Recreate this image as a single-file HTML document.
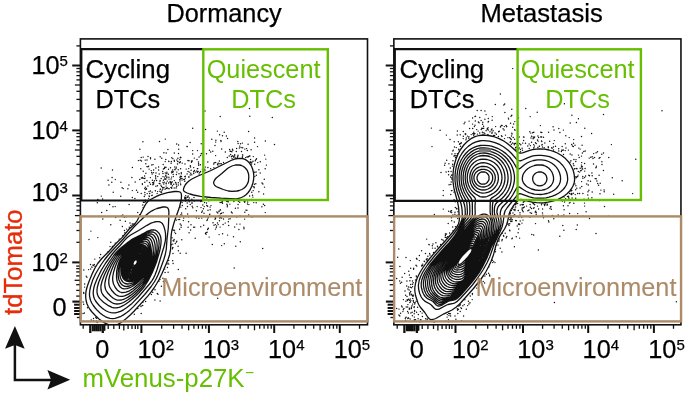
<!DOCTYPE html>
<html><head><meta charset="utf-8"><title>Dormancy vs Metastasis</title>
<style>
html,body{margin:0;padding:0;background:#fff}
svg{display:block}
text{font-family:"Liberation Sans",Arial,Helvetica,sans-serif;font-size:25.3px;fill:#000;stroke:#000;stroke-width:0.25px}
text.g{fill:#66BE00;stroke:none}
text.b{fill:#AD8A68;stroke:#AD8A68;stroke-width:0.1px}
text.r{fill:#E62D0A;stroke:#E62D0A;stroke-width:0.35px}
</style></head><body>
<svg width="685" height="393" viewBox="0 0 685 393">
<rect width="685" height="393" fill="#fff"/>
<defs>
<clipPath id="cl"><rect x="80.4" y="38.9" width="287.1" height="285.90000000000003"/></clipPath>
<clipPath id="cr"><rect x="393.85" y="38.9" width="287.1" height="285.90000000000003"/></clipPath>
</defs>

<g clip-path="url(#cl)"><path d="M145.6 201.7h0M173.0 253.4h0M183.3 220.6h0M198.7 165.2h0M202.6 171.1h0M110.8 242.2h0M220.2 116.5h0M208.3 228.2h0M132.3 224.0h0M262.9 183.9h0M162.7 171.5h0M174.8 169.4h0M193.7 167.6h0M152.6 182.7h0M145.3 187.3h0M161.0 192.3h0M96.5 320.9h0M217.5 223.0h0M226.6 201.2h0M96.6 318.2h0M254.7 164.2h0M265.8 159.1h0M185.7 200.6h0M274.5 144.4h0M190.1 142.4h0M254.2 187.8h0M173.7 184.2h0M93.4 265.4h0M238.5 201.3h0M174.2 187.9h0M176.7 186.4h0M176.4 167.1h0M192.7 128.3h0M250.0 161.9h0M235.4 208.2h0M171.1 163.2h0M163.0 176.6h0M205.0 111.0h0M238.9 229.4h0M256.5 158.7h0M197.8 168.6h0M212.3 244.5h0M122.1 187.8h0M205.5 233.4h0M220.1 202.4h0M248.7 214.9h0M163.9 152.8h0M150.4 191.0h0M170.9 187.5h0M173.9 240.9h0M144.6 175.9h0M97.9 199.4h0M239.4 147.9h0M145.1 178.1h0M165.3 173.0h0M161.8 158.3h0M220.1 227.1h0M189.1 177.0h0M84.4 313.0h0M148.6 198.6h0M145.3 200.1h0M192.0 202.7h0M113.0 206.7h0M172.9 158.6h0M164.4 182.1h0M148.6 166.3h0M164.5 179.1h0M201.3 153.4h0M141.1 305.9h0M221.3 163.8h0M264.7 205.4h0M204.9 170.8h0M176.4 242.1h0M248.9 204.6h0M143.2 157.1h0M205.9 232.8h0M84.6 287.1h0M99.7 257.7h0M152.2 195.3h0M180.3 157.8h0M250.5 161.9h0M165.1 272.5h0M152.1 192.3h0M219.4 161.0h0M112.4 246.4h0M253.8 202.6h0M151.8 195.5h0M164.5 177.1h0M179.8 179.4h0M146.9 166.6h0M242.4 143.1h0M115.3 243.1h0M255.8 183.8h0M113.2 192.2h0M156.0 173.0h0M225.4 216.4h0M254.6 138.0h0M184.8 176.5h0M220.9 140.5h0M229.2 155.9h0M142.7 305.4h0M109.6 204.4h0M167.3 181.1h0M162.9 189.0h0M176.8 241.3h0M176.4 174.5h0M184.8 198.4h0M227.3 206.8h0M155.6 175.7h0M168.8 188.4h0M102.8 219.0h0M168.7 260.4h0M177.9 158.3h0M86.9 277.2h0M249.8 116.2h0M188.6 216.8h0M216.6 226.0h0M247.0 156.9h0M108.1 180.3h0M194.8 227.1h0M217.4 131.1h0M227.5 201.6h0M225.2 223.1h0M167.2 187.8h0M181.6 212.9h0M218.0 165.0h0M257.8 162.6h0M165.7 175.9h0M192.3 161.0h0M191.8 174.7h0M179.6 289.3h0M188.2 195.9h0M199.1 173.9h0M168.5 169.2h0M83.8 293.4h0M144.8 182.3h0M141.2 313.5h0M123.2 188.6h0M127.9 188.8h0M180.2 253.2h0M182.0 215.3h0M252.9 197.1h0M154.5 180.8h0M224.3 243.7h0M184.5 179.4h0M164.8 269.1h0M251.1 149.7h0M180.0 180.9h0M171.7 188.3h0M83.7 292.5h0M132.4 167.5h0M130.9 225.5h0M115.2 206.6h0M219.0 211.5h0M244.3 201.5h0M137.8 308.5h0M193.7 173.5h0M182.0 178.5h0M214.3 162.8h0M187.0 146.4h0M185.0 163.9h0M90.5 264.4h0M174.7 232.1h0M234.7 154.8h0M251.3 199.4h0M178.3 185.0h0M185.0 198.9h0M190.2 204.4h0M200.6 171.4h0M160.1 301.0h0M171.5 184.1h0M222.4 201.7h0M239.7 202.2h0M171.3 161.5h0M236.6 148.5h0M183.8 179.5h0M215.5 218.4h0M193.7 227.2h0M204.0 213.3h0M242.8 154.9h0M168.0 263.1h0M223.1 224.5h0M175.3 243.4h0M160.4 189.2h0M94.3 264.5h0M215.0 145.5h0M215.9 140.3h0M222.5 135.7h0M165.9 167.3h0M190.6 166.9h0M260.3 161.7h0M152.2 195.2h0M201.2 143.7h0M186.0 198.7h0M147.0 159.9h0M192.2 206.3h0M226.4 136.0h0M173.2 171.8h0M158.9 281.2h0M162.1 190.3h0M122.4 226.4h0M129.1 204.4h0M253.2 199.8h0M207.8 162.0h0M120.7 196.3h0M240.5 143.7h0M215.4 224.6h0M154.9 299.9h0M122.8 235.7h0M187.4 146.6h0M187.1 173.9h0M181.3 172.7h0M238.1 155.2h0M200.7 201.6h0M180.2 223.9h0M254.7 172.2h0M195.2 238.2h0M133.3 223.9h0M233.7 156.3h0M207.4 219.2h0M221.7 245.6h0M215.7 162.4h0M249.6 196.0h0M204.5 202.4h0M231.4 200.2h0M178.5 153.4h0M226.9 204.3h0M189.3 201.8h0M208.3 228.4h0M181.2 225.2h0M260.2 172.9h0M137.8 212.5h0M181.8 239.7h0M178.4 250.8h0M165.8 159.4h0M211.8 139.2h0M222.5 203.3h0M217.5 164.2h0M145.0 194.7h0M161.4 286.3h0M188.6 177.0h0M165.9 167.5h0M142.4 183.6h0M247.5 203.9h0M192.7 153.9h0M131.9 177.4h0M199.1 156.9h0M263.4 204.3h0M173.2 230.2h0M168.9 177.2h0M181.5 176.4h0M253.2 190.6h0M251.6 164.0h0M174.8 166.9h0M166.8 173.4h0M153.7 183.7h0M236.3 151.4h0M179.9 217.0h0M184.7 197.2h0M196.8 170.9h0M230.8 151.2h0M198.9 218.3h0M253.3 156.6h0M180.5 157.2h0M248.0 156.7h0M231.9 151.7h0M94.8 259.1h0M265.2 168.7h0M198.2 171.4h0M124.5 230.5h0M194.3 200.9h0M253.0 161.3h0M170.1 181.5h0M110.0 246.6h0M155.7 177.1h0M246.9 210.3h0M206.5 153.7h0M217.8 212.9h0M207.0 220.4h0M179.6 229.2h0M207.6 206.2h0M173.4 176.6h0M221.7 148.9h0M167.1 188.5h0M215.5 217.7h0M198.5 161.9h0M180.6 168.7h0M132.3 190.6h0M240.1 216.0h0M186.1 253.2h0M148.0 156.4h0M177.7 161.6h0M240.0 224.1h0M206.5 202.9h0M231.4 212.0h0M98.7 321.6h0M163.4 281.5h0M207.1 232.3h0M219.5 220.7h0M155.7 178.7h0M244.7 202.3h0M180.3 161.7h0M183.7 218.0h0M220.1 217.3h0M244.8 212.2h0M149.5 182.5h0M179.8 177.1h0M147.0 180.7h0M237.8 141.5h0M124.9 232.8h0M159.9 191.2h0M143.1 178.1h0M137.7 192.2h0M101.7 212.4h0M150.4 177.6h0M174.5 230.2h0M91.8 266.9h0M141.4 178.0h0M141.2 157.4h0M208.3 217.8h0M91.2 319.9h0M235.6 157.9h0M196.4 210.8h0M126.6 229.1h0M167.4 267.5h0M234.7 156.0h0M174.3 152.9h0M95.8 317.4h0M215.6 155.6h0M141.5 161.0h0M144.3 196.5h0M163.0 182.5h0M207.4 216.5h0M191.5 162.2h0M173.1 263.4h0M163.2 164.5h0M178.3 219.6h0M232.5 149.3h0M180.7 184.7h0M159.5 141.5h0M256.1 171.9h0M189.3 172.1h0M201.7 212.2h0M180.5 183.1h0M242.7 147.7h0M93.6 320.8h0M262.7 248.5h0M92.8 265.1h0M164.6 167.2h0M144.3 178.6h0M266.4 165.1h0M249.9 155.9h0M221.0 141.5h0M254.1 187.0h0M232.2 156.2h0M255.3 160.7h0M97.8 237.6h0M172.4 185.7h0M168.7 161.3h0M211.0 205.6h0M176.0 168.5h0M145.6 189.6h0M153.6 169.9h0M146.4 188.5h0M228.3 201.7h0M136.5 190.3h0M161.2 178.4h0M130.0 223.0h0M240.3 241.7h0M191.5 160.9h0M242.4 157.2h0M242.5 154.9h0M83.0 313.4h0M84.7 284.0h0M190.4 165.6h0M87.5 307.7h0M198.6 163.7h0M162.7 187.4h0M253.1 186.6h0M167.0 264.1h0M176.7 143.9h0M153.5 172.6h0M188.2 199.7h0M167.9 149.5h0M190.3 166.2h0M166.2 183.8h0M171.4 244.8h0M219.7 218.1h0M207.6 229.4h0M221.5 218.0h0M106.8 210.5h0M222.6 233.8h0M180.8 207.1h0M139.7 214.6h0M143.2 171.3h0M176.9 159.9h0M196.3 217.7h0M140.2 160.2h0M92.0 267.2h0M206.8 199.0h0M163.0 173.4h0M159.9 279.5h0M150.5 158.8h0M176.1 188.0h0M166.2 152.9h0M83.7 304.3h0M149.3 196.4h0M191.0 224.8h0M112.5 170.0h0M218.2 224.6h0M220.3 209.6h0M192.0 203.2h0M152.7 292.2h0M159.9 181.6h0M163.4 180.2h0M238.0 208.0h0M90.9 231.1h0M152.2 173.9h0M206.8 205.5h0M219.9 163.7h0M144.8 192.5h0M179.6 219.5h0M244.9 149.1h0M232.2 212.9h0M224.2 132.2h0M217.7 298.3h0M142.4 184.4h0M165.8 179.3h0M216.9 211.9h0M160.2 189.2h0M221.6 213.3h0M225.3 151.9h0M263.6 194.0h0M147.2 193.6h0M86.2 276.1h0M238.1 143.4h0M166.2 182.9h0M144.2 202.2h0M258.9 191.8h0M232.8 150.3h0M102.6 198.9h0M151.8 165.0h0M179.4 162.7h0M172.7 244.1h0M223.5 162.5h0M176.0 183.0h0M205.7 216.6h0M245.9 210.1h0M161.2 192.4h0M203.7 225.3h0M170.9 183.9h0M201.4 201.1h0M216.3 227.6h0M197.2 206.6h0M97.3 202.8h0M264.3 179.2h0M149.7 193.4h0M165.0 178.7h0M219.1 215.5h0M112.1 177.5h0M176.3 184.2h0M115.8 217.6h0M264.5 187.1h0M181.3 173.8h0M215.5 229.1h0M142.6 177.4h0M189.1 232.8h0M188.6 221.8h0M170.3 182.5h0M202.4 210.9h0M215.7 142.1h0M166.8 177.8h0M233.5 236.8h0M187.8 197.2h0M141.2 193.4h0M202.8 205.0h0M187.5 206.4h0M194.0 197.4h0M156.6 180.5h0M165.2 161.6h0M191.1 170.3h0M194.4 170.7h0M184.8 181.2h0M97.1 322.5h0M190.2 174.9h0M170.8 182.4h0M180.6 176.3h0M132.3 197.4h0M155.0 289.7h0M172.5 248.8h0M171.6 177.1h0M188.7 168.6h0M178.1 246.3h0M155.9 186.3h0M143.1 207.6h0M197.5 150.6h0M89.0 239.4h0M197.4 172.2h0M161.5 186.4h0M250.4 162.5h0M152.4 180.3h0M172.8 229.6h0M244.0 228.8h0M254.4 184.3h0M228.7 219.1h0M159.2 183.5h0M254.9 176.6h0M157.6 191.6h0M182.2 163.1h0M166.9 172.3h0M220.5 210.1h0M215.0 219.3h0M241.1 147.4h0M187.7 214.0h0M129.3 227.3h0M153.7 182.3h0M246.6 148.6h0M210.1 207.1h0M158.6 166.9h0M187.2 202.9h0M166.9 176.9h0M182.1 202.5h0M155.9 168.0h0M161.0 185.2h0M169.1 188.8h0M143.4 202.2h0M218.3 163.2h0M83.1 301.9h0M151.2 170.6h0M193.6 171.7h0M213.9 167.6h0M229.6 149.4h0M174.3 180.6h0M120.1 220.2h0M208.0 210.3h0M180.1 162.5h0M248.5 156.8h0M145.9 173.2h0M244.6 219.1h0M157.5 185.8h0M88.6 269.6h0M229.9 204.1h0M208.8 200.8h0M223.5 219.0h0M205.1 216.6h0M173.2 174.4h0M101.2 168.0h0M111.8 182.2h0M166.1 186.1h0M233.9 157.5h0M172.1 181.8h0M221.4 202.3h0M237.4 157.2h0M150.5 157.6h0M189.0 160.7h0M158.6 170.0h0M145.6 301.5h0M227.6 138.5h0M168.9 161.6h0M250.6 159.4h0M128.9 185.0h0M248.6 131.5h0M160.0 183.6h0M197.0 159.4h0M140.8 168.8h0M213.0 222.8h0M174.4 161.3h0M245.4 200.7h0M115.3 179.6h0M182.1 180.1h0M234.7 227.0h0M154.9 159.3h0M178.3 269.5h0M108.1 251.7h0M182.3 205.5h0M239.7 146.1h0M142.8 204.9h0M191.9 199.3h0M176.5 220.1h0M202.8 164.0h0M151.4 294.4h0M172.9 247.4h0M264.6 155.1h0M151.7 172.4h0M265.4 141.0h0M190.6 229.9h0M168.8 264.1h0M93.5 318.4h0M145.0 200.5h0M227.4 205.2h0M204.2 206.6h0M185.6 195.6h0M157.3 293.4h0M213.9 200.2h0M159.2 173.9h0M166.2 188.2h0M219.6 134.7h0M223.2 212.6h0M185.7 208.7h0M160.1 180.5h0M219.1 234.6h0M124.4 217.3h0M168.4 174.2h0M230.1 151.2h0M160.2 156.8h0M177.9 161.4h0M171.9 171.5h0M171.8 182.6h0M168.1 272.3h0M175.0 169.7h0M100.6 254.4h0M261.9 206.7h0M227.6 235.1h0M171.1 179.0h0M249.5 108.4h0M228.3 221.8h0M148.0 166.8h0M245.6 157.6h0M236.8 224.1h0M192.8 207.7h0M177.5 163.9h0M197.4 168.7h0M166.2 281.4h0M210.7 168.7h0M210.2 209.7h0M237.7 156.3h0M181.1 227.2h0M232.3 155.6h0M144.7 188.6h0M254.6 142.2h0M161.6 192.0h0M175.6 233.5h0M210.7 151.9h0M202.4 169.2h0M230.1 218.7h0M216.5 199.8h0M195.4 172.1h0M233.9 201.4h0M178.3 182.8h0M172.0 237.8h0M194.4 170.5h0M220.5 217.4h0M247.7 201.9h0M209.6 214.8h0M180.6 176.9h0M265.2 212.6h0M203.4 208.8h0M142.5 178.0h0M165.3 139.1h0M142.9 302.3h0M219.2 210.9h0M145.8 163.7h0M220.6 213.7h0M178.2 169.7h0M150.5 184.3h0M209.1 237.1h0M175.5 182.5h0M258.9 169.8h0M188.0 171.5h0M212.8 151.2h0M200.4 164.7h0M163.4 168.9h0M174.2 160.3h0M139.9 149.2h0M170.9 184.2h0M213.7 164.0h0M122.8 214.9h0M90.7 269.0h0M186.2 169.1h0M149.1 196.0h0M164.0 187.4h0M247.3 150.4h0M249.3 155.9h0M235.8 246.3h0M108.9 184.9h0M214.0 225.2h0M178.7 149.3h0M186.0 199.1h0M119.2 239.1h0M174.1 239.5h0M272.3 117.5h0M146.5 188.9h0M157.8 176.6h0M201.8 218.1h0M192.7 150.6h0M164.4 168.5h0M200.8 226.7h0M152.8 184.7h0M168.6 183.0h0M141.0 306.6h0M199.8 172.4h0M248.1 144.2h0M185.4 178.1h0M232.1 158.7h0M241.5 151.4h0M252.5 195.2h0M158.0 294.3h0M187.1 197.0h0M256.2 202.8h0M171.6 172.8h0M101.3 196.1h0M126.5 216.8h0M134.9 198.4h0M110.8 224.8h0M251.8 192.2h0M251.9 162.3h0M185.7 197.4h0M176.6 186.2h0M145.2 160.1h0M185.6 201.1h0M243.9 227.2h0M231.4 156.8h0M149.0 191.6h0M209.9 214.1h0M169.0 179.1h0M149.1 169.1h0M185.3 176.3h0M155.4 190.8h0M201.0 207.6h0M157.1 193.6h0M230.6 154.4h0M188.1 227.3h0M83.8 270.0h0M202.3 153.8h0M205.4 167.1h0M187.9 160.4h0M206.1 234.2h0M172.7 260.8h0M178.6 145.0h0M190.8 173.3h0M250.9 162.1h0M153.2 184.5h0M234.2 267.9h0M209.5 150.2h0M138.4 160.6h0M147.9 185.9h0M165.1 189.2h0M121.2 215.9h0M120.9 182.2h0M227.3 157.4h0M256.3 175.2h0M134.3 314.3h0M214.2 216.6h0M200.6 155.4h0M228.7 225.5h0M176.8 172.1h0M125.4 221.3h0M205.6 129.4h0M173.1 240.8h0M179.8 159.6h0M262.0 182.9h0M238.1 204.5h0M171.6 187.4h0M256.0 159.4h0M171.8 157.7h0M172.7 170.0h0M257.5 146.6h0M153.1 164.6h0M242.5 156.7h0M163.8 183.9h0M165.9 175.3h0M189.3 198.0h0M204.8 169.3h0M142.9 141.8h0M179.0 173.7h0M251.9 217.1h0M207.9 167.5h0M180.7 178.8h0M236.8 217.1h0M139.8 179.5h0M172.7 247.8h0M95.0 266.2h0M172.5 172.2h0M180.9 214.7h0M170.5 167.7h0M180.9 157.5h0M135.2 181.9h0M218.7 199.6h0M162.9 278.3h0M194.3 158.1h0" stroke="#111" stroke-width="1.45" stroke-linecap="round" fill="none"/><path d="M237.4 158.5L240.5 158.3 243.0 158.6 245.5 159.6 247.5 161.0 249.5 163.1 251.4 166.0 252.6 169.0 253.5 172.5 253.8 176.0 253.6 179.5 252.9 183.0 251.7 186.5 250.0 190.0 248.2 192.5 246.0 194.8 243.6 196.5 241.5 197.5 239.5 198.2 237.5 198.6 235.0 198.8 221.0 198.2 211.0 197.5 200.5 196.3 193.5 195.0 189.9 194.0 187.2 193.0 185.1 192.0 183.8 191.0 183.4 190.0 183.6 188.5 184.4 186.5 185.2 185.0 186.3 183.5 187.8 182.0 189.6 180.5 191.9 179.0 196.9 176.5 211.0 170.5 231.0 160.5 234.5 159.2ZM174.5 191.5L176.5 191.4 178.5 191.6 179.9 192.0 180.6 192.5 181.2 193.5 181.5 195.5 181.4 198.0 181.1 200.5 179.5 207.0 174.1 222.5 171.9 230.5 171.3 234.0 171.0 237.5 170.6 249.5 169.5 255.0 168.2 259.0 165.7 265.0 162.0 273.5 159.1 279.5 156.5 284.0 154.0 288.0 151.0 292.2 148.0 295.9 134.0 311.3 130.0 315.3 126.0 318.8 122.5 321.5 120.0 323.2 117.5 324.5 115.5 325.1 113.5 325.4 111.0 325.3 108.5 324.7 105.5 323.4 102.5 321.6 99.0 318.9 95.5 315.7 92.0 312.0 90.0 309.5 88.2 306.5 86.9 303.5 86.1 300.5 85.7 297.5 85.7 294.5 86.0 291.5 86.8 288.0 87.9 284.5 89.4 280.5 92.5 273.1 94.7 268.5 97.7 263.5 101.8 258.5 109.5 250.7 115.4 244.0 122.0 237.6 129.2 229.0 134.0 224.7 135.5 223.0 136.9 221.0 138.3 218.5 144.5 206.2 146.5 203.0 148.0 201.3 150.5 199.5 157.0 196.1 160.5 194.6 167.5 192.6ZM235.3 165.0L239.5 165.0 241.5 165.5 242.6 166.0 243.5 166.5 245.3 168.0 247.0 170.0 247.5 171.0 248.5 173.8 248.8 176.5 248.5 181.0 248.0 182.6 246.5 185.5 245.0 187.2 243.5 188.5 241.8 189.5 239.3 190.5 237.0 191.0 232.0 191.4 228.3 191.0 223.2 189.5 217.5 187.2 216.2 186.5 214.9 185.5 213.9 184.0 213.7 183.0 213.7 182.0 214.6 180.0 216.2 178.0 221.5 173.8 227.5 168.5 229.0 167.5 231.9 166.0ZM162.9 207.0L165.0 206.9 167.0 207.4 168.0 208.3 168.7 210.0 168.9 212.5 168.8 217.0 168.3 228.0 167.0 239.3 166.3 249.0 165.4 254.0 163.8 259.5 159.8 270.5 158.2 274.5 156.3 278.5 154.3 282.0 151.2 286.5 144.7 294.5 133.5 306.6 129.5 310.4 126.5 312.8 123.5 314.9 121.0 316.3 117.5 317.7 115.0 318.4 112.5 318.6 110.0 318.4 107.5 317.7 105.5 316.8 103.0 315.2 100.0 312.9 97.5 310.6 95.2 308.0 93.3 305.5 91.7 303.0 90.6 300.5 89.9 298.0 89.5 295.5 89.5 293.0 89.9 290.0 90.5 287.0 92.5 280.6 95.5 274.0 97.8 270.0 101.2 264.5 104.7 259.5 107.9 255.5 113.5 249.3 123.0 239.2 133.0 228.0 140.5 220.4 146.5 214.8 149.0 212.8 152.0 210.8 154.5 209.5 157.0 208.5ZM154.5 222.0L156.5 221.6 159.0 221.7 160.5 222.2 161.5 222.8 162.5 223.8 163.2 225.0 164.0 226.8 165.0 230.5 165.5 233.5 165.6 237.0 165.5 239.5 165.0 242.5 164.0 246.5 157.0 269.7 155.0 275.0 153.5 278.1 152.0 280.6 149.5 284.0 138.3 297.0 132.0 303.4 126.5 307.8 123.5 309.8 120.5 311.3 118.0 312.2 115.5 312.8 113.0 312.9 111.0 312.7 108.6 312.0 106.4 311.0 104.0 309.5 102.0 308.0 99.5 305.7 97.1 303.0 95.6 301.0 94.5 299.0 93.8 297.0 93.4 295.0 93.2 293.0 93.4 290.5 93.8 288.0 94.6 285.0 97.2 278.5 101.1 270.5 105.7 263.0 112.3 254.0 115.3 250.5 120.1 245.5 124.5 240.4 127.3 237.5 130.6 235.0 138.6 230.5 147.0 225.3 151.0 223.2ZM151.6 230.0L153.5 229.8 155.5 230.2 157.0 231.1 159.2 233.5 160.2 235.5 160.8 237.5 161.1 241.0 160.9 244.0 160.3 248.0 159.3 252.5 156.3 262.5 152.3 272.5 148.3 280.5 144.8 286.0 142.8 288.5 139.0 292.8 136.0 295.8 132.0 299.3 129.0 301.8 125.5 304.3 123.0 305.7 120.5 306.8 119.0 307.3 116.5 307.8 114.0 307.8 112.0 307.3 108.5 305.7 103.5 302.2 100.0 298.9 98.9 297.5 98.0 295.9 97.3 294.0 97.0 292.0 97.0 290.0 97.3 287.5 98.6 282.5 101.3 276.0 105.2 268.5 109.2 262.0 113.7 255.5 116.6 252.0 120.5 248.3 128.0 242.2 132.5 239.1 141.5 234.5 142.0 234.1 142.5 234.0 146.5 231.7 150.0 230.3ZM150.0 232.0L152.0 231.9 153.5 232.2 155.0 233.0 156.6 234.5 157.8 236.5 158.5 238.5 159.0 241.0 159.1 243.5 158.8 247.0 158.1 251.0 155.9 260.5 153.1 268.5 149.5 276.2 145.5 282.7 141.0 288.3 135.0 294.3 131.5 297.2 128.0 299.8 123.5 302.5 121.0 303.4 119.0 303.9 117.0 304.0 115.5 303.9 113.5 303.3 111.8 302.5 108.2 300.0 103.9 296.0 102.8 294.5 101.9 293.0 101.4 291.5 101.0 289.5 100.9 287.5 101.0 285.5 102.1 281.0 104.6 274.5 107.8 268.0 111.6 261.5 115.6 255.5 118.5 252.0 122.2 248.5 128.5 243.4 133.0 240.4 145.5 233.6 148.0 232.5ZM148.1 234.0L150.0 233.8 151.5 234.0 152.7 234.5 154.0 235.6 155.1 237.0 156.1 239.0 156.8 241.5 157.1 244.0 157.1 247.0 156.8 250.0 156.1 255.0 155.1 259.5 153.1 266.5 150.5 272.5 147.0 278.5 142.5 284.4 137.0 290.1 134.0 292.7 130.5 295.4 128.0 297.1 125.5 298.5 123.5 299.4 121.5 300.0 119.5 300.2 118.0 300.1 116.5 299.8 114.6 299.0 113.0 298.0 111.1 296.5 107.5 292.7 106.4 291.0 105.6 289.5 104.9 286.5 104.8 284.5 105.0 282.5 106.0 278.0 108.2 272.0 111.0 266.0 114.1 260.5 117.4 255.5 120.3 252.0 124.0 248.5 129.0 244.5 134.2 241.0 144.0 235.6 146.0 234.7ZM146.1 236.0L148.0 235.7 149.5 235.7 150.5 236.1 151.8 237.0 153.0 238.5 153.8 240.0 154.5 242.0 155.0 244.5 155.2 247.0 155.2 250.0 154.3 258.5 152.8 265.0 150.7 270.5 147.5 276.0 143.5 281.1 138.5 286.3 133.0 291.1 128.5 294.1 124.5 295.9 122.5 296.3 121.0 296.4 119.0 296.2 117.5 295.6 116.0 294.7 114.5 293.5 111.4 290.0 109.7 287.0 109.2 285.5 108.8 283.5 108.8 280.0 109.6 276.0 111.4 270.5 113.9 264.5 116.6 259.5 119.2 255.5 122.0 252.0 125.2 249.0 130.0 245.2 135.5 241.5 142.5 237.5ZM146.2 237.5L147.5 237.5 148.5 237.7 149.8 238.5 150.7 239.5 151.5 240.9 152.1 242.5 153.1 247.0 153.4 253.0 153.0 260.0 151.9 265.5 150.2 270.0 147.5 274.4 144.0 278.6 138.5 284.1 133.5 288.2 129.5 290.8 126.0 292.2 123.0 292.6 121.5 292.5 120.0 292.0 118.5 291.1 117.5 290.3 115.3 287.5 113.5 284.0 112.7 280.5 112.7 277.0 113.5 272.5 115.1 267.0 117.1 262.0 119.3 258.0 121.7 254.5 124.2 251.5 127.0 248.9 132.2 245.0 139.0 240.6 143.0 238.4ZM143.6 239.5L146.0 239.2 147.0 239.4 148.0 240.0 148.9 241.0 149.7 242.5 150.8 246.5 151.8 253.0 152.0 259.5 151.4 264.0 151.0 266.0 150.0 268.7 148.5 271.5 147.0 273.5 144.8 276.0 138.0 282.3 133.5 285.8 130.0 287.7 127.0 288.7 124.0 288.9 122.0 288.3 120.3 287.0 118.8 285.0 117.2 281.5 116.6 278.5 116.5 275.5 116.7 271.0 117.7 266.0 119.2 261.5 120.7 258.5 122.2 256.0 124.1 253.5 127.0 250.4 131.0 247.2 138.0 242.3 141.0 240.6ZM141.8 241.5L144.5 241.1 145.5 241.2 146.5 241.6 147.5 242.4 148.3 243.5 149.5 246.5 150.7 252.0 151.1 257.5 150.9 260.5 150.6 263.0 149.3 267.5 147.5 271.0 144.8 274.5 140.9 278.5 136.0 282.5 132.5 284.7 129.5 286.0 126.5 286.5 125.0 286.3 123.9 286.0 122.0 284.9 120.4 283.0 119.0 280.0 118.3 277.0 118.1 273.5 118.5 269.5 119.3 265.5 120.6 261.5 122.0 258.5 123.8 255.5 125.6 253.0 127.9 250.5 130.9 248.0 135.5 244.7 138.5 242.9ZM141.2 243.0L142.5 242.8 144.0 243.0 145.0 243.3 146.0 243.9 147.0 244.9 147.8 246.0 149.2 249.5 150.1 253.5 150.2 258.0 149.6 262.5 148.4 266.5 146.4 270.5 143.9 274.0 140.6 277.5 137.0 280.5 133.5 282.6 130.5 283.7 127.5 284.0 125.0 283.5 123.0 282.2 121.7 280.5 120.5 278.0 119.9 275.0 119.8 271.5 120.1 268.0 120.9 264.5 122.1 261.0 123.7 257.5 125.6 254.5 127.5 252.0 129.9 249.5 132.9 247.0 136.0 245.0 138.5 243.8ZM139.9 244.5L142.5 244.6 144.0 245.1 145.0 245.7 147.0 247.7 148.5 250.5 149.2 253.5 149.4 257.0 148.9 261.0 147.8 265.0 146.3 268.5 143.8 272.5 141.0 275.8 138.0 278.5 135.0 280.4 132.5 281.4 129.5 281.8 128.5 281.7 126.5 281.2 125.0 280.4 123.2 278.5 122.2 276.5 121.6 274.5 121.3 271.0 121.6 267.5 122.2 264.5 123.3 261.0 124.6 258.0 126.3 255.0 128.4 252.0 130.5 249.7 133.0 247.5 135.3 246.0 137.5 245.0ZM137.8 246.0L140.5 245.6 143.0 246.1 145.2 247.5 146.1 248.5 147.0 249.9 148.0 252.5 148.5 256.0 148.3 259.5 147.4 263.5 145.8 267.5 143.8 271.0 141.5 274.0 138.5 276.9 136.0 278.7 133.0 280.0 130.0 280.5 127.5 280.1 126.0 279.4 124.4 278.0 123.3 276.0 122.6 274.0 122.3 271.5 122.3 269.0 122.7 266.0 123.5 263.0 124.6 260.0 126.0 257.0 127.5 254.5 129.4 252.0 131.5 249.8 133.5 248.2 135.5 246.9ZM138.2 247.0L139.5 246.8 141.0 246.9 143.0 247.5 144.9 249.0 146.3 251.0 147.2 253.5 147.6 256.5 147.3 260.0 146.5 263.5 145.1 267.0 143.1 270.5 141.0 273.3 138.5 275.7 136.0 277.5 133.0 278.8 130.5 279.2 128.0 278.9 126.3 278.0 125.0 276.7 124.1 275.0 123.4 273.0 123.2 270.5 123.2 268.0 123.6 265.5 124.4 262.5 125.6 259.5 126.8 257.0 128.4 254.5 130.0 252.5 132.0 250.5 134.0 248.9 136.0 247.8ZM138.9 248.0L141.0 248.1 143.0 249.0 144.6 250.5 145.8 252.5 146.5 255.0 146.6 258.0 146.3 261.0 145.5 264.0 144.2 267.0 142.5 270.0 140.5 272.6 138.0 275.0 135.5 276.7 133.0 277.7 130.5 278.0 128.5 277.6 127.0 276.9 125.7 275.5 124.9 274.0 124.3 272.0 124.1 270.0 124.1 267.5 124.5 265.0 125.4 262.0 126.4 259.5 127.7 257.0 129.4 254.5 131.1 252.5 133.0 250.7 135.0 249.3 137.0 248.4ZM137.0 249.5L139.0 249.1 141.0 249.4 143.0 250.5 144.3 252.0 145.2 254.0 145.7 256.5 145.6 259.5 145.1 262.5 144.0 265.5 142.5 268.5 140.5 271.3 138.5 273.3 136.5 274.9 134.0 276.2 131.5 276.7 129.5 276.6 128.0 275.9 126.9 275.0 126.0 273.8 125.3 272.0 125.0 270.0 125.0 268.0 125.2 266.0 125.7 263.5 126.6 261.0 127.7 258.5 128.9 256.5 130.3 254.5 132.0 252.7 133.5 251.4 135.5 250.1ZM137.4 250.5L139.5 250.3 141.0 250.7 142.5 251.7 143.8 253.5 144.5 255.5 144.8 258.0 144.6 260.5 143.9 263.5 142.7 266.5 141.2 269.0 139.5 271.1 137.5 273.0 135.5 274.4 133.5 275.2 131.5 275.5 129.5 275.2 128.2 274.5 127.3 273.5 126.5 272.1 126.0 270.5 125.8 268.5 125.9 266.5 126.8 262.5 128.5 258.5 131.0 254.9 132.5 253.3 134.0 252.1 135.5 251.2ZM137.9 251.5L139.5 251.5 141.0 252.1 142.5 253.5 143.3 255.0 143.8 257.0 143.9 259.0 143.6 261.5 142.9 264.0 141.7 266.5 140.5 268.5 138.9 270.5 137.0 272.2 135.5 273.2 133.5 274.0 131.5 274.3 130.0 274.0 129.0 273.4 128.0 272.4 127.3 271.0 126.9 269.5 126.7 268.0 126.8 266.0 127.8 262.0 129.5 258.3 132.0 255.0 133.5 253.6 135.0 252.5 136.5 251.8ZM136.3 253.0L138.0 252.6 139.5 252.8 140.8 253.5 141.7 254.5 142.5 256.0 142.9 258.0 142.9 260.0 142.5 262.5 141.6 265.0 140.5 267.0 139.1 269.0 137.5 270.6 136.0 271.8 134.0 272.7 132.5 273.0 131.0 272.9 130.0 272.5 129.0 271.7 128.0 269.8 127.6 267.0 128.1 263.5 129.4 260.0 131.3 257.0 133.5 254.7 135.0 253.6ZM136.5 254.0L138.0 253.8 139.0 254.0 140.0 254.5 141.0 255.5 141.7 257.0 142.0 258.5 142.0 260.5 141.6 262.5 140.9 264.5 140.0 266.3 138.8 268.0 137.4 269.5 136.0 270.6 134.5 271.4 133.0 271.8 131.5 271.7 130.0 270.9 129.3 270.0 128.9 269.0 128.6 267.5 128.5 266.0 129.0 263.0 130.2 260.0 132.0 257.3 134.0 255.3 135.5 254.4ZM137.0 255.0L138.0 255.0 139.0 255.3 139.9 256.0 140.5 257.0 140.9 258.0 141.1 259.5 141.0 261.0 140.6 263.0 139.2 266.0 137.0 268.7 135.9 269.5 134.5 270.2 133.0 270.5 132.0 270.4 131.0 270.0 130.5 269.5 129.8 268.5 129.5 267.5 129.5 265.0 130.0 262.5 131.4 259.5 133.0 257.4 135.0 255.7ZM135.6 256.5L136.5 256.2 137.5 256.1 138.5 256.5 139.1 257.0 139.8 258.0 140.1 259.0 140.2 260.5 140.0 262.0 139.5 263.5 138.8 265.0 137.0 267.4 136.0 268.3 134.5 269.1 133.5 269.3 132.5 269.2 131.3 268.5 130.5 267.1 130.3 265.5 130.5 263.5 131.4 261.0 132.5 259.2 134.0 257.5ZM135.8 257.5L136.5 257.3 137.5 257.4 138.4 258.0 138.8 258.5 139.2 259.5 139.3 260.5 139.0 262.5 138.0 264.8 136.5 266.7 135.5 267.5 134.5 267.9 133.0 268.0 132.0 267.4 131.4 266.5 131.2 265.0 131.4 263.0 132.2 261.0 133.2 259.5 134.5 258.2ZM136.1 258.5L137.0 258.5 137.5 258.8 138.0 259.5 138.4 261.0 138.1 262.5 137.2 264.5 136.0 265.9 134.5 266.7 133.5 266.8 132.9 266.5 132.3 265.5 132.1 264.0 132.4 262.5 133.1 261.0 134.0 259.8 135.0 258.9ZM135.0 260.0L136.0 259.7 136.9 260.0 137.3 261.0 137.3 262.0 137.0 263.1 136.0 264.6 135.0 265.3 134.0 265.5 133.5 265.2 133.1 264.5 133.0 263.5 133.5 261.9 134.0 261.0Z" fill="none" stroke="#111" stroke-width="1.3" stroke-linejoin="round"/></g>
<g clip-path="url(#cr)"><path d="M483.0 134.2h0M516.3 203.7h0M608.6 216.2h0M475.0 116.5h0M467.4 136.1h0M420.4 311.6h0M500.5 127.1h0M496.4 134.2h0M398.9 314.9h0M515.7 220.5h0M581.5 170.1h0M521.9 204.4h0M453.0 230.8h0M558.7 148.7h0M460.2 134.8h0M402.1 277.2h0M505.2 233.2h0M534.1 204.3h0M412.6 286.6h0M456.5 208.4h0M420.3 319.9h0M531.6 142.2h0M515.1 209.2h0M524.7 201.6h0M573.9 165.5h0M514.7 214.7h0M541.9 145.0h0M401.7 282.2h0M472.2 299.6h0M484.8 133.8h0M588.4 198.1h0M458.7 149.2h0M487.2 129.2h0M467.6 305.6h0M576.8 188.3h0M463.3 136.2h0M445.4 234.0h0M454.2 141.8h0M402.2 306.9h0M460.0 143.4h0M518.1 118.2h0M549.7 141.3h0M448.9 163.7h0M575.7 198.3h0M460.9 307.6h0M498.4 240.9h0M575.8 161.5h0M511.8 109.3h0M543.5 137.2h0M448.8 321.8h0M567.5 196.5h0M499.3 239.1h0M513.6 124.0h0M488.3 118.4h0M472.4 294.4h0M454.9 214.2h0M455.0 153.8h0M456.2 155.8h0M440.1 130.2h0M533.1 138.7h0M486.1 114.6h0M409.5 293.0h0M568.9 198.2h0M465.8 134.0h0M397.7 257.3h0M541.5 141.0h0M502.1 125.5h0M552.3 215.5h0M462.9 305.7h0M511.8 115.3h0M400.4 283.2h0M523.6 140.5h0M563.4 130.1h0M481.1 110.5h0M452.8 150.9h0M501.9 251.9h0M570.0 202.4h0M407.0 296.5h0M460.9 143.5h0M454.6 155.7h0M548.2 146.8h0M427.2 319.5h0M449.3 313.5h0M570.0 162.2h0M600.9 190.1h0M578.5 155.1h0M410.3 260.6h0M481.1 120.5h0M500.5 126.7h0M622.2 180.7h0M527.8 146.0h0M411.5 294.3h0M416.5 258.5h0M522.2 207.9h0M509.6 230.3h0M441.8 239.4h0M486.4 274.2h0M414.6 311.4h0M511.5 136.0h0M511.9 221.4h0M473.7 135.3h0M592.2 192.0h0M484.9 276.0h0M412.0 305.7h0M422.7 265.6h0M484.9 119.2h0M596.2 167.2h0M513.2 137.5h0M434.1 322.3h0M494.6 135.4h0M518.1 145.8h0M581.5 166.6h0M475.0 125.3h0M407.3 300.6h0M508.5 223.9h0M541.6 137.0h0M584.5 203.1h0M469.6 128.4h0M543.5 217.8h0M571.7 144.4h0M492.1 120.2h0M541.8 132.5h0M542.6 208.9h0M518.9 223.8h0M590.8 157.3h0M562.8 225.4h0M581.4 165.1h0M512.0 134.0h0M454.9 155.7h0M582.9 178.2h0M409.6 309.0h0M559.9 132.4h0M476.7 129.6h0M513.9 209.8h0M447.1 317.1h0M409.4 308.2h0M443.7 242.1h0M483.6 126.3h0M484.6 283.0h0M516.3 236.7h0M493.6 135.5h0M591.9 197.7h0M479.1 122.8h0M483.2 281.5h0M398.8 249.0h0M479.3 282.6h0M421.6 266.0h0M519.2 147.9h0M410.2 277.6h0M460.5 146.3h0M457.2 134.9h0M582.8 176.5h0M569.3 203.1h0M459.0 150.0h0M530.0 217.0h0M513.2 216.6h0M530.4 145.6h0M548.5 220.7h0M582.2 166.5h0M419.4 255.5h0M522.5 150.3h0M481.1 280.3h0M586.7 183.9h0M456.8 208.9h0M445.6 234.0h0M541.5 204.8h0M542.5 147.0h0M448.4 319.7h0M515.0 130.3h0M600.0 157.4h0M456.9 208.5h0M475.5 116.3h0M531.6 136.3h0M399.7 281.0h0M489.5 274.9h0M518.4 224.2h0M407.7 307.0h0M422.8 264.1h0M583.8 151.4h0M517.2 225.9h0M601.9 161.7h0M493.8 261.6h0M451.4 175.2h0M498.4 136.4h0M468.4 301.3h0M426.7 239.1h0M426.4 259.3h0M551.3 209.3h0M409.4 274.9h0M571.7 193.6h0M522.5 210.4h0M540.4 125.6h0M538.6 209.0h0M406.7 285.9h0M433.0 244.0h0M479.7 282.1h0M532.4 202.8h0M554.4 302.5h0M490.0 131.8h0M413.4 301.7h0M603.4 170.5h0M491.3 129.9h0M510.9 219.8h0M443.2 195.4h0M580.1 187.9h0M470.3 296.0h0M446.4 135.1h0M509.6 219.6h0M597.7 183.5h0M537.5 206.1h0M517.6 203.5h0M487.9 134.4h0M530.1 204.4h0M412.7 298.4h0M504.5 138.6h0M564.4 103.8h0M504.3 126.6h0M568.6 196.3h0M418.1 318.8h0M514.8 121.6h0M420.0 321.7h0M513.7 207.1h0M530.8 133.1h0M588.3 184.9h0M461.3 142.7h0M438.0 247.1h0M523.4 207.7h0M562.7 150.2h0M516.8 146.9h0M464.9 299.7h0M413.7 268.3h0M443.3 190.6h0M596.9 180.9h0M427.9 256.3h0M407.8 318.5h0M487.4 128.4h0M524.1 137.1h0M582.1 168.0h0M544.1 203.9h0M553.1 126.8h0M472.6 124.1h0M536.3 143.6h0M599.1 175.2h0M406.0 257.4h0M510.9 218.2h0M511.0 116.3h0M464.9 122.2h0M575.2 194.6h0M405.9 301.3h0M403.3 309.7h0M574.6 168.8h0M412.6 304.1h0M460.2 311.4h0M581.6 181.6h0M492.5 260.2h0M577.0 168.8h0M502.0 136.4h0M455.0 212.2h0M481.2 129.5h0M509.9 230.8h0M479.1 283.8h0M409.3 309.3h0M573.3 193.3h0M479.7 132.9h0M413.9 307.1h0M407.5 300.5h0M408.2 317.8h0M458.1 214.9h0M446.5 234.0h0M451.1 171.5h0M573.7 139.6h0M565.2 150.6h0M495.3 249.6h0M608.8 157.5h0M511.9 238.8h0M545.8 203.6h0M632.6 193.6h0M408.7 318.1h0M466.3 138.0h0M523.3 202.2h0M540.9 136.8h0M422.1 313.1h0M564.6 202.0h0M576.0 159.6h0M534.1 137.8h0M510.7 215.2h0M596.2 178.8h0M465.3 133.8h0M472.6 118.0h0M450.6 177.0h0M530.2 212.8h0M547.0 204.9h0M414.3 306.7h0M461.5 308.4h0M410.9 313.0h0M409.9 280.8h0M560.2 200.5h0M544.6 205.6h0M595.1 178.6h0M452.1 179.4h0M475.3 120.9h0M480.8 280.6h0M539.4 146.2h0M530.2 116.6h0M572.1 197.9h0M435.1 248.3h0M604.1 189.9h0M585.1 168.5h0M576.2 229.4h0M509.6 137.6h0M504.7 103.9h0M536.2 214.3h0M584.6 206.1h0M407.2 299.6h0M450.8 184.4h0M416.3 275.9h0M477.2 110.4h0M571.9 115.3h0M561.9 215.6h0M565.3 143.8h0M495.6 126.6h0M474.3 134.1h0M446.1 172.0h0M570.9 160.8h0M564.1 209.8h0M414.7 304.0h0M582.6 169.0h0M466.0 139.8h0M586.1 211.8h0M512.7 68.6h0M452.1 174.9h0M453.9 156.1h0M588.8 175.3h0M570.2 122.9h0M522.1 209.2h0M516.3 220.8h0M424.5 261.5h0M455.0 316.0h0M452.4 166.1h0M518.7 228.9h0M453.9 192.1h0M544.8 142.9h0M407.9 304.6h0M426.4 259.8h0M414.2 313.8h0M411.6 287.8h0M466.3 309.3h0M477.4 134.1h0M525.8 108.5h0M510.6 141.6h0M600.2 183.2h0M446.3 237.8h0M571.0 191.1h0M544.9 204.7h0M399.9 266.4h0M506.6 126.8h0M533.7 235.0h0M576.4 122.5h0M432.0 146.6h0M538.4 250.0h0M506.8 236.4h0M588.1 180.8h0M558.8 150.9h0M409.1 290.0h0M552.1 148.3h0M479.8 117.4h0M555.5 146.2h0M504.9 112.5h0M478.1 284.3h0M474.9 133.6h0M410.1 318.9h0M512.6 143.0h0M603.5 152.9h0M510.4 213.3h0M593.7 153.6h0M591.9 173.0h0M498.6 131.7h0M589.5 175.8h0M603.5 114.5h0M529.1 144.0h0M403.9 308.5h0M580.1 149.1h0M566.0 147.9h0M503.6 235.4h0M415.1 302.8h0M585.2 151.0h0M441.0 172.5h0M514.4 246.8h0M396.7 278.4h0M589.5 218.4h0M450.0 139.5h0M514.6 139.3h0M421.9 265.1h0M429.2 244.7h0M401.6 305.9h0M488.6 273.3h0M575.9 185.8h0M471.2 134.6h0M460.2 304.5h0M443.1 240.3h0M523.2 211.8h0M559.8 236.2h0M578.1 175.1h0M581.7 162.6h0M458.0 211.8h0M455.3 201.7h0M498.0 244.9h0M408.4 312.9h0M411.8 294.9h0M592.2 175.7h0M584.7 171.1h0M407.6 311.5h0M451.6 178.0h0M480.6 281.1h0M554.0 130.0h0M450.8 194.5h0M515.4 204.8h0M412.5 284.2h0M410.5 301.8h0M468.9 136.7h0M512.3 219.7h0M548.9 222.0h0M565.8 135.8h0M410.7 291.4h0M512.4 208.8h0M414.4 317.1h0M537.5 139.9h0M563.4 205.7h0M455.5 157.4h0M509.0 225.4h0M521.8 217.6h0M534.7 204.7h0M594.5 157.5h0M573.8 203.3h0M580.7 170.8h0M464.3 304.6h0M564.1 197.1h0M564.5 200.2h0M553.4 147.0h0M573.4 146.6h0M449.0 315.6h0M571.9 155.0h0M409.4 300.2h0M520.0 214.9h0M414.5 319.8h0M538.6 137.4h0M457.8 313.4h0M408.8 271.2h0M448.7 211.2h0M496.3 245.1h0M421.6 250.7h0M579.5 193.4h0M509.7 223.7h0M520.8 144.7h0M537.2 112.3h0M531.8 234.4h0M454.3 199.9h0M417.6 307.3h0M548.3 147.7h0M408.5 286.9h0M461.6 320.7h0M458.8 306.0h0M406.1 317.3h0M523.5 137.0h0M569.2 137.6h0M517.3 144.4h0M450.3 167.9h0M548.6 132.3h0M537.9 136.0h0M662.0 110.7h0M412.2 312.3h0M595.9 167.7h0M510.8 221.5h0M587.8 194.9h0M417.0 259.2h0M479.1 283.2h0M448.6 174.7h0M604.5 206.5h0M457.4 131.0h0M453.3 150.1h0M511.4 144.2h0M451.9 153.9h0M579.2 157.4h0M450.5 212.0h0M635.8 159.3h0M599.1 158.2h0M405.0 291.0h0M503.8 105.0h0M549.2 91.1h0M517.7 124.7h0M403.4 299.6h0M448.2 223.4h0M433.5 252.4h0M463.6 315.9h0M514.1 143.5h0M457.6 310.2h0M575.0 145.3h0M547.3 205.1h0M503.7 236.2h0M415.5 280.0h0M572.5 145.9h0M520.6 200.5h0M488.1 122.0h0M561.7 150.1h0M420.9 319.8h0M414.1 307.6h0M510.3 213.0h0M489.8 275.9h0M411.4 307.2h0M573.9 159.4h0M414.0 320.1h0M582.9 193.4h0M519.2 137.0h0M568.0 205.8h0M452.9 214.9h0M502.2 239.4h0M518.1 232.8h0M469.1 121.1h0M519.7 224.5h0M414.6 310.4h0M502.4 233.0h0M427.2 318.9h0M523.3 204.5h0M410.7 284.5h0M505.5 135.1h0M459.9 305.5h0M452.0 190.6h0M676.4 301.7h0M592.2 156.7h0M520.2 221.0h0M405.6 295.2h0M437.4 246.2h0M523.0 220.1h0M405.3 318.3h0M514.6 129.6h0M463.3 131.5h0M549.9 208.6h0M399.8 315.9h0M506.2 237.7h0M570.2 153.9h0M482.4 132.2h0M577.7 193.4h0M523.3 201.0h0M565.6 198.6h0M510.9 219.9h0M518.0 148.5h0M414.1 302.6h0M568.4 150.1h0M473.8 132.2h0M593.5 164.0h0M400.6 313.2h0M533.2 136.9h0M518.4 149.1h0M402.9 311.6h0M573.3 163.8h0M409.9 294.1h0M482.8 122.2h0M468.9 304.0h0M582.1 145.2h0M511.3 139.6h0M427.1 258.4h0M445.9 321.2h0M422.4 316.5h0M495.0 262.6h0M458.5 309.2h0M415.0 321.1h0M443.3 209.1h0M501.5 135.7h0M412.7 295.4h0M612.3 177.8h0M601.8 154.3h0M533.5 203.5h0M578.4 118.7h0M484.9 111.0h0M551.7 147.7h0M563.9 214.9h0M424.2 261.3h0M450.6 316.0h0M410.3 287.2h0M450.4 313.7h0M507.8 224.0h0M430.0 254.9h0M577.7 213.6h0M558.8 128.5h0M501.3 125.4h0M416.8 266.1h0M458.4 141.8h0M411.3 277.6h0M568.7 197.7h0M457.6 96.3h0M514.7 210.1h0M588.0 191.8h0M512.7 127.3h0M515.6 147.4h0M457.4 153.7h0M445.1 163.3h0M428.9 244.5h0M510.0 138.0h0M604.2 191.8h0M451.4 217.7h0M418.3 314.4h0M532.7 132.7h0M482.5 128.5h0M554.3 140.6h0M553.4 143.6h0M507.9 137.6h0M483.7 128.2h0M535.5 142.7h0M519.7 143.8h0M455.0 200.8h0M452.7 227.0h0M580.2 168.3h0M531.0 138.0h0M486.1 130.7h0M537.9 147.5h0M468.8 138.3h0M562.1 200.8h0M413.3 300.5h0M432.5 248.1h0M510.1 142.2h0M508.6 119.1h0M506.7 126.5h0M588.9 190.2h0M576.2 168.5h0M447.5 236.6h0M503.1 128.8h0M454.5 147.0h0M445.2 237.3h0M450.9 210.9h0M520.3 204.9h0M406.2 307.0h0M492.1 132.3h0M538.1 141.1h0M518.3 210.4h0M514.9 210.4h0M405.6 320.2h0M415.6 319.6h0M569.6 213.4h0M416.0 265.3h0M499.1 241.0h0M465.3 134.6h0M510.5 216.5h0M582.4 152.9h0M581.6 166.8h0M581.5 136.4h0M470.1 99.6h0M413.1 296.3h0M500.2 248.2h0M492.7 262.6h0M563.3 150.0h0M449.1 184.8h0M510.9 139.0h0M509.3 216.7h0M410.0 292.8h0M404.7 273.4h0M416.6 312.3h0M456.3 147.6h0M435.9 242.7h0M591.6 133.5h0M515.7 206.9h0M540.8 132.2h0M455.3 207.5h0M534.1 207.7h0M584.6 163.4h0M452.7 164.3h0M432.3 245.8h0M562.5 200.9h0M451.2 182.0h0M483.9 132.6h0M520.4 149.5h0M409.8 294.9h0M425.6 318.7h0M448.5 171.5h0M410.9 300.6h0M416.1 301.2h0M515.2 143.6h0M529.2 148.4h0M501.9 240.7h0M596.1 152.8h0M412.4 315.8h0M574.2 169.1h0M429.6 253.5h0M440.6 244.4h0M522.7 143.1h0M408.5 299.3h0M593.0 158.5h0M533.8 132.2h0M510.6 123.2h0M571.9 194.6h0M522.0 223.1h0M578.8 148.1h0M472.4 293.4h0M522.1 148.2h0M413.6 295.1h0M518.5 118.0h0M533.9 147.7h0M534.6 137.0h0M569.6 193.4h0M602.0 164.5h0M575.9 178.0h0M412.8 296.2h0M520.0 212.7h0M518.8 216.9h0M577.7 176.5h0M558.9 283.3h0M541.9 203.6h0M427.5 260.2h0M457.3 308.8h0M457.7 218.6h0M575.7 189.8h0M544.2 147.7h0M399.0 309.1h0M410.7 268.2h0M406.9 280.9h0M573.5 143.3h0M571.8 190.5h0M470.0 302.8h0M539.2 146.2h0M478.6 285.4h0M551.0 206.8h0M525.5 143.3h0M579.6 172.1h0M488.1 127.8h0M596.0 233.5h0M495.5 251.8h0M492.3 116.6h0M597.5 151.8h0M413.6 269.3h0M541.9 141.6h0M524.4 207.0h0M413.2 282.8h0M535.8 211.2h0M473.8 133.4h0M396.7 308.5h0M419.3 260.6h0M511.4 210.5h0M446.7 160.2h0M513.0 213.0h0M576.7 176.9h0M495.1 133.0h0M472.8 133.7h0M478.4 121.9h0M463.2 138.6h0M534.4 146.0h0M535.5 223.6h0M536.2 212.4h0M434.3 214.4h0M476.7 288.1h0M493.1 130.7h0M585.6 176.0h0M481.8 128.3h0M598.6 185.2h0M472.7 128.5h0M474.4 126.6h0M499.3 131.3h0M575.8 176.6h0M488.8 266.9h0M517.0 149.7h0M416.7 258.4h0M514.3 144.8h0M553.5 149.9h0M584.0 199.1h0M431.4 128.1h0M600.0 193.7h0M542.5 212.9h0M407.9 289.0h0M482.6 124.3h0M412.5 280.9h0M527.9 210.8h0M451.7 212.6h0M464.1 123.7h0M409.8 302.6h0M515.2 149.1h0M533.5 208.2h0M550.4 206.9h0M411.4 308.5h0M583.3 216.2h0M425.9 321.3h0M611.4 144.6h0M563.9 230.3h0M535.2 211.9h0M547.5 204.3h0M454.3 222.0h0M531.4 208.4h0M453.0 160.8h0M577.3 225.0h0M492.0 128.9h0M599.5 200.6h0M613.7 194.3h0M516.0 143.1h0M451.6 210.8h0M449.6 233.0h0M511.8 133.3h0M520.5 151.7h0M506.0 125.5h0M513.3 215.5h0M584.8 128.3h0M533.7 144.6h0M571.3 193.4h0M571.2 194.5h0M508.4 118.1h0M447.3 314.6h0M542.2 144.4h0M511.6 217.8h0M459.5 144.2h0M558.2 214.9h0M444.6 165.3h0M581.5 156.1h0M453.6 200.2h0M531.6 213.3h0M542.8 215.3h0M519.6 238.1h0M533.7 148.0h0M504.1 129.9h0M562.1 146.4h0M589.2 158.1h0M510.1 217.3h0M575.0 183.9h0M563.5 154.4h0M478.1 131.1h0M456.6 215.4h0M529.8 131.8h0M522.8 205.1h0M512.4 238.1h0M451.7 220.8h0M540.9 137.1h0M596.4 166.1h0M448.7 313.4h0M488.3 130.0h0M445.4 235.5h0M451.4 190.6h0M553.8 218.7h0M584.6 177.4h0M491.9 133.3h0M529.0 209.9h0M500.4 94.0h0M410.3 298.9h0M480.7 280.3h0M578.3 171.4h0M530.4 207.2h0M526.6 206.1h0M455.9 319.3h0M488.5 121.4h0M561.4 151.4h0M590.5 181.3h0M416.4 276.7h0M425.5 253.4h0M581.8 186.5h0M495.3 104.4h0M455.5 226.8h0" stroke="#111" stroke-width="1.45" stroke-linecap="round" fill="none"/><path d="M479.0 135.5L483.0 135.1 488.5 135.5 493.5 136.5 498.5 138.3 502.5 140.3 506.0 142.5 509.8 145.5 516.5 151.6 518.0 152.5 519.5 153.0 521.0 153.1 522.5 152.8 529.0 150.6 532.5 149.7 536.0 149.1 539.5 148.9 544.5 149.2 549.0 150.0 553.5 151.3 557.4 153.0 561.6 155.5 565.5 158.6 568.6 162.0 571.2 166.0 573.1 170.0 574.2 174.5 574.6 179.0 574.5 181.0 574.1 183.0 573.0 186.0 571.6 188.5 569.8 191.0 567.3 193.5 564.5 195.7 561.5 197.6 558.0 199.3 554.5 200.6 551.5 201.4 548.0 202.1 544.5 202.6 541.0 202.8 536.5 202.7 532.5 202.2 529.0 201.4 523.0 199.8 521.5 199.5 520.0 199.6 519.0 200.0 517.0 201.5 515.0 203.7 512.9 206.5 510.4 210.5 509.3 213.5 507.7 221.0 506.5 225.0 504.5 229.0 500.0 235.9 497.9 240.0 495.8 246.0 493.5 254.7 491.0 261.4 488.5 266.8 486.0 271.5 483.5 275.5 481.0 279.0 473.5 288.5 461.0 302.5 458.5 305.1 456.0 307.3 452.0 310.0 444.0 313.8 435.8 318.5 433.0 319.5 431.5 319.7 430.5 319.5 429.5 319.0 428.0 317.5 424.8 312.5 420.2 307.0 418.7 304.5 417.8 302.5 415.7 296.0 414.8 291.0 414.8 287.5 415.7 282.5 417.2 278.0 419.7 273.0 422.7 268.0 426.2 263.0 429.7 258.5 434.8 252.5 446.5 239.5 452.5 232.5 456.5 227.4 458.4 224.0 459.1 221.5 459.4 219.0 458.6 207.5 457.6 202.0 454.2 189.5 453.5 185.5 453.0 181.5 452.9 177.5 453.1 173.0 453.6 168.5 454.4 164.5 456.0 159.0 458.0 154.0 460.5 149.5 463.8 145.0 467.0 141.7 471.0 138.7 475.0 136.7ZM479.5 141.0L481.5 140.7 484.0 140.7 489.5 141.2 495.0 142.6 500.0 144.7 503.5 146.7 507.5 149.7 511.1 153.0 516.5 159.1 518.0 160.3 519.0 160.7 520.0 160.8 521.5 160.5 527.5 157.8 532.0 156.2 534.5 155.7 538.0 155.3 541.5 155.3 545.5 155.8 549.5 156.7 553.5 158.3 557.0 160.3 560.0 162.6 562.8 165.5 564.9 168.5 566.5 172.0 567.4 175.5 567.7 179.5 567.2 182.5 566.3 185.0 564.8 187.5 563.1 189.5 561.0 191.5 558.5 193.3 555.5 194.9 552.5 196.2 549.0 197.2 546.0 197.8 543.0 198.2 537.0 198.2 533.5 197.8 529.5 196.9 521.0 193.8 520.0 193.7 519.0 193.8 517.5 194.8 507.3 207.5 505.3 210.5 504.7 212.0 504.2 214.0 503.2 222.0 502.2 226.5 500.2 231.5 496.0 240.1 494.1 244.5 489.7 257.0 486.9 263.0 483.3 269.5 480.7 273.5 475.8 280.5 472.4 285.0 466.7 291.5 460.5 298.3 456.5 301.9 455.0 302.8 453.5 303.4 448.0 304.5 446.7 305.0 439.5 308.9 438.0 309.4 436.0 309.4 434.5 308.5 431.5 305.2 430.0 304.0 426.5 302.2 424.5 300.9 422.6 299.0 421.2 297.0 419.7 293.5 418.6 289.0 418.4 285.0 419.2 280.5 420.4 277.0 422.3 273.0 424.7 269.0 427.4 265.0 434.5 256.0 448.3 240.5 452.9 235.0 457.5 228.7 459.0 226.2 460.5 223.1 461.7 220.0 462.3 217.5 462.3 214.5 462.1 210.0 461.7 207.0 461.1 204.0 457.1 192.0 456.1 188.0 455.4 184.0 455.0 180.0 455.1 175.5 455.4 171.5 456.2 167.0 457.7 162.0 459.8 157.0 462.2 153.0 465.0 149.4 468.5 146.1 472.0 143.7 476.0 141.9ZM480.2 145.5L482.0 145.3 485.0 145.3 488.5 145.6 491.5 146.2 495.0 147.3 497.5 148.3 502.0 150.7 506.0 153.6 509.9 157.5 512.9 161.5 516.5 167.6 517.5 168.7 518.0 168.9 519.0 168.9 520.0 168.4 524.1 165.0 527.1 163.0 530.3 161.5 533.5 160.5 537.5 159.8 541.5 159.8 545.5 160.4 548.6 161.5 551.5 163.0 554.2 165.0 556.5 167.4 558.3 170.0 559.6 173.0 560.4 176.0 560.6 179.0 560.2 182.0 559.2 184.5 557.9 186.5 556.2 188.5 554.4 190.0 552.0 191.5 549.5 192.7 547.0 193.5 543.5 194.2 541.0 194.5 538.0 194.4 534.5 194.1 532.0 193.5 529.0 192.6 526.5 191.5 523.9 190.0 519.5 187.1 518.5 186.8 518.0 186.9 517.0 187.6 516.0 189.1 512.7 195.0 510.7 198.0 507.9 201.5 503.0 206.5 501.9 208.0 501.1 209.5 500.5 211.5 500.2 214.0 501.1 220.0 501.1 223.0 500.7 225.5 499.7 229.0 497.2 235.0 491.5 246.6 486.9 258.0 482.4 267.0 479.8 271.5 474.3 279.0 470.3 284.0 461.3 294.5 458.0 297.8 456.5 298.9 454.5 299.9 451.2 300.5 448.0 301.5 442.5 304.8 440.5 305.7 439.0 306.0 437.5 305.9 436.0 304.8 433.0 301.5 431.4 300.5 428.5 299.2 427.0 298.2 425.2 296.5 424.1 295.0 423.3 293.5 422.3 291.0 421.3 287.0 421.2 283.5 421.8 280.0 422.8 277.0 424.6 273.0 426.7 269.5 429.8 265.0 437.2 256.0 446.1 246.0 449.0 243.0 454.5 236.1 457.5 231.4 459.0 228.7 464.4 217.0 465.1 215.0 465.3 213.5 465.1 208.5 464.6 205.5 463.6 202.0 460.5 195.0 459.4 192.0 458.2 188.0 457.4 184.0 457.1 180.0 457.0 176.5 457.4 172.5 458.0 169.0 459.3 164.5 461.2 160.0 463.7 156.0 466.2 153.0 468.0 151.2 470.0 149.6 473.0 147.8 476.5 146.3ZM481.2 148.0L484.5 147.9 488.5 148.4 492.0 149.2 495.5 150.4 498.8 152.0 501.9 154.0 504.9 156.5 507.3 159.0 509.5 162.0 511.3 165.0 512.8 168.5 513.8 172.0 514.4 175.5 514.5 178.5 514.2 182.0 513.4 185.5 512.4 188.5 511.3 191.0 508.6 195.5 505.3 199.5 499.5 205.0 498.3 206.5 497.6 208.0 497.0 210.5 496.9 212.5 498.6 219.0 499.1 222.5 499.0 225.5 498.3 229.0 496.0 235.0 490.7 246.5 486.2 257.5 482.5 264.9 479.5 270.3 474.5 277.3 470.0 283.0 462.0 292.4 458.0 296.4 456.5 297.5 455.0 298.3 448.5 300.5 442.0 303.8 440.0 304.4 438.5 304.2 437.0 303.3 433.6 300.0 428.5 296.8 427.0 295.3 425.8 293.5 424.3 290.0 423.5 286.0 423.4 282.5 424.2 278.5 425.2 275.5 426.9 272.0 429.0 268.5 431.4 265.0 436.6 258.5 451.0 241.9 455.5 236.0 459.3 230.0 463.5 221.7 466.6 216.5 467.3 214.0 467.4 212.0 467.1 206.0 466.7 202.5 466.0 200.4 463.1 195.0 461.6 191.5 460.3 187.5 459.5 183.5 459.2 180.5 459.1 177.0 459.3 174.0 459.8 170.5 461.0 166.0 462.7 162.0 465.0 158.2 467.6 155.0 470.5 152.4 474.0 150.1 477.5 148.7ZM536.9 165.0L539.5 164.8 542.0 165.0 544.1 165.5 546.5 166.6 548.6 168.0 550.5 170.0 551.9 172.0 552.9 174.5 553.5 177.0 553.6 179.5 553.2 181.5 552.4 183.5 551.1 185.5 549.5 187.0 547.4 188.5 545.0 189.5 542.0 190.2 539.0 190.4 535.3 190.0 531.5 189.0 527.5 187.0 525.6 185.5 523.5 183.0 522.5 180.6 522.3 179.0 522.4 177.5 522.9 175.0 524.0 172.8 525.5 170.8 528.0 168.5 530.5 167.0 534.4 165.5ZM478.9 151.0L482.0 150.5 485.5 150.6 489.0 151.1 492.5 152.1 495.5 153.3 498.6 155.0 501.3 157.0 504.0 159.5 506.0 162.0 507.9 165.0 509.5 168.4 510.5 171.5 511.0 174.5 511.2 178.0 511.0 181.3 510.4 184.5 509.6 187.0 508.6 189.5 507.5 191.6 505.9 194.0 504.3 196.0 502.4 198.0 496.5 203.0 495.7 204.0 495.0 205.4 494.4 208.0 494.3 212.0 494.7 214.5 496.4 219.5 497.0 222.5 497.1 226.0 496.5 230.0 495.6 233.0 494.1 237.0 489.9 246.5 485.8 256.5 483.2 262.0 479.4 269.0 475.3 275.0 469.5 282.5 462.0 291.2 458.0 295.1 456.5 296.2 454.5 297.4 449.0 299.5 443.5 302.1 441.5 302.7 439.5 302.6 438.0 301.9 434.7 299.0 430.5 296.0 429.0 294.5 427.7 292.5 426.4 289.5 425.6 285.5 425.5 282.0 426.2 278.0 427.2 275.0 428.6 272.0 430.2 269.0 432.5 265.5 436.4 260.5 450.5 243.8 454.6 238.5 459.1 232.0 464.5 222.7 468.3 218.0 469.2 216.5 469.7 214.5 469.9 211.5 469.7 205.0 469.3 202.0 468.9 200.5 468.2 199.0 465.5 194.5 464.2 192.0 462.3 187.0 461.6 183.5 461.2 180.0 461.1 176.5 461.4 173.0 462.3 169.0 463.7 165.0 465.5 161.5 467.5 158.5 469.9 156.0 472.5 153.9 475.5 152.2ZM538.2 172.0L541.5 172.0 543.0 172.6 545.0 174.0 546.0 175.3 546.5 176.5 547.0 179.0 546.4 181.5 545.5 183.0 544.6 184.0 544.0 184.5 542.1 185.5 539.5 185.8 537.5 185.5 536.4 185.0 535.5 184.5 534.0 183.0 533.0 181.0 532.6 178.5 533.0 176.5 533.5 175.4 535.2 173.5 536.8 172.5ZM479.1 153.5L481.5 153.1 484.5 153.0 488.0 153.5 491.0 154.3 494.0 155.5 496.7 157.0 499.4 159.0 501.5 161.0 503.5 163.5 505.1 166.0 506.5 169.0 507.4 172.0 507.9 175.0 508.1 178.0 507.9 181.0 507.3 184.0 506.5 186.5 505.5 188.7 504.2 191.0 502.8 193.0 499.5 196.4 494.0 200.6 493.2 201.5 492.8 202.5 492.4 206.0 492.3 213.0 492.6 215.0 494.4 220.0 495.0 223.0 495.2 227.0 494.7 231.0 493.9 234.0 492.6 238.0 486.0 254.3 483.4 260.0 479.7 267.0 476.1 272.5 470.1 280.5 462.5 289.4 458.0 293.9 456.0 295.4 454.0 296.5 446.0 300.0 443.0 301.0 441.5 301.2 440.5 301.1 438.5 300.2 432.7 295.5 430.8 293.5 429.5 291.5 428.3 288.5 427.6 284.5 427.7 281.0 428.3 277.5 429.2 274.5 430.5 271.5 432.5 268.0 434.8 264.5 437.8 260.5 445.5 251.2 455.2 239.0 459.6 233.0 465.0 224.6 470.8 218.5 472.0 216.5 472.4 215.0 472.4 213.5 472.3 202.5 472.1 200.5 471.3 198.5 468.0 194.0 466.5 191.5 464.6 187.0 463.8 184.0 463.3 181.0 463.1 178.0 463.3 174.5 464.0 170.5 465.0 167.3 466.5 164.0 468.5 160.9 471.0 158.1 473.5 156.0 476.3 154.5ZM479.4 156.0L483.0 155.5 487.7 156.0 489.6 156.5 492.1 157.5 495.6 159.5 497.5 161.0 499.0 162.5 501.5 165.7 503.5 169.7 504.7 174.0 505.0 177.5 504.8 181.0 503.9 184.5 502.4 188.0 500.8 190.5 498.6 193.0 496.0 195.2 491.5 198.1 490.7 199.0 490.3 200.0 490.1 209.5 490.2 213.0 490.8 215.5 492.7 220.5 493.4 225.0 493.2 230.0 492.1 235.5 490.6 240.5 487.1 249.5 484.7 255.5 482.6 260.0 479.9 265.0 477.3 269.5 473.8 274.5 470.0 279.5 466.0 284.3 461.5 289.2 458.5 292.2 455.6 294.5 451.5 296.8 446.5 298.9 443.5 299.5 441.0 299.3 438.5 298.1 434.7 295.0 432.5 292.5 431.0 290.0 430.1 287.0 429.6 283.5 429.8 280.0 430.5 276.5 431.4 273.5 433.0 270.0 435.0 266.5 437.4 263.0 453.0 243.1 459.7 234.5 465.0 227.2 467.4 224.5 473.2 218.5 474.6 216.5 474.9 215.5 475.2 213.5 475.0 206.0 475.4 200.5 475.4 199.0 474.7 197.5 471.3 194.0 469.5 191.8 468.1 189.5 467.1 187.5 466.1 184.5 465.5 181.5 465.2 178.5 465.3 175.5 465.8 172.0 466.8 168.5 468.4 165.0 470.0 162.6 472.0 160.3 474.2 158.5 476.7 157.0ZM479.8 159.5L483.0 159.1 487.0 159.5 490.5 160.6 494.0 162.5 496.9 165.0 499.0 167.7 500.5 170.5 501.7 174.5 502.0 178.0 501.5 182.0 500.5 185.0 498.5 188.5 496.3 191.0 493.8 193.0 491.0 194.6 487.0 196.5 486.0 196.8 482.5 197.0 480.0 196.6 476.0 194.3 474.0 192.9 472.0 191.0 469.9 188.0 468.5 185.0 467.5 181.3 467.2 178.0 467.5 174.2 468.5 170.5 470.0 167.2 471.5 165.0 474.0 162.5 477.0 160.5ZM481.7 214.5L483.5 214.1 485.5 214.2 487.5 215.1 489.1 216.5 490.0 217.8 491.0 220.5 491.5 223.0 491.8 226.5 491.6 229.5 491.2 233.0 489.5 240.2 488.0 244.8 485.5 251.6 483.0 257.5 481.5 260.5 478.5 266.0 476.0 270.0 471.0 277.0 464.8 284.5 460.5 289.0 457.5 291.8 455.4 293.5 452.5 295.5 450.5 296.5 447.8 297.5 445.5 298.0 443.5 298.0 441.1 297.5 439.9 297.0 437.5 295.5 435.5 293.5 434.5 292.1 433.0 289.5 432.3 287.5 431.8 285.5 431.6 281.5 432.1 277.5 433.2 273.5 435.2 269.0 437.2 265.5 440.0 261.5 446.7 253.0 456.0 240.5 464.7 230.0 471.3 222.5 476.0 217.7 479.0 215.7ZM480.5 163.0L483.5 162.7 486.5 163.1 489.5 164.1 492.0 165.5 494.3 167.5 496.2 170.0 497.4 172.5 498.2 175.5 498.4 179.0 497.8 182.0 496.9 184.5 495.3 187.0 493.5 189.0 491.0 190.9 488.5 192.1 485.5 192.9 482.5 193.1 480.0 192.7 477.5 191.7 475.5 190.4 473.6 188.5 472.1 186.5 470.7 183.5 470.1 181.0 469.8 178.0 469.9 175.5 470.6 172.5 471.7 170.0 473.4 167.5 475.5 165.4 478.0 163.9ZM480.8 217.0L483.0 216.6 485.0 216.8 486.5 217.6 487.9 219.0 489.0 221.0 489.6 223.0 490.0 225.5 490.0 228.5 489.8 231.5 489.3 235.0 487.4 242.5 483.8 252.5 480.0 261.0 475.4 269.0 468.9 278.5 464.0 284.6 458.5 290.0 456.0 291.9 453.5 293.6 451.5 294.6 449.0 295.5 447.0 295.8 445.0 295.9 443.0 295.6 441.0 294.8 438.5 293.0 436.0 290.0 434.5 287.1 433.7 284.0 433.4 280.5 433.9 277.0 435.0 273.0 436.8 269.0 438.7 265.5 441.5 261.5 447.8 253.5 457.1 241.0 466.6 229.5 471.5 223.9 475.0 220.5 478.0 218.3ZM481.0 166.5L483.5 166.3 486.0 166.6 488.0 167.2 490.0 168.3 492.0 169.9 493.3 171.5 494.6 174.0 495.2 176.0 495.3 178.0 495.1 180.0 494.4 182.5 493.3 184.5 491.7 186.5 490.0 187.9 488.0 189.0 485.5 189.8 483.0 190.0 481.0 189.8 479.0 189.2 477.0 188.1 475.2 186.5 473.7 184.5 472.7 182.5 472.0 180.1 471.8 177.5 472.0 175.5 472.6 173.5 473.6 171.5 475.0 169.8 477.0 168.1 479.0 167.1ZM481.9 219.0L483.5 219.1 485.0 219.7 486.0 220.6 487.0 222.0 487.8 224.0 488.2 226.5 488.4 229.0 488.2 232.0 487.1 238.5 485.1 245.5 481.2 255.5 477.4 263.5 472.7 271.5 466.7 280.5 463.5 284.4 459.5 288.1 455.0 291.4 452.5 292.6 450.5 293.3 448.0 293.8 446.0 293.8 444.0 293.3 442.5 292.7 440.0 290.9 437.6 288.0 436.2 285.0 435.4 282.0 435.3 279.0 435.9 275.5 437.0 272.0 438.8 268.0 440.6 265.0 442.6 262.0 449.2 253.5 457.1 243.0 470.0 227.3 473.5 223.6 476.5 221.2 479.5 219.6ZM481.1 169.5L482.5 169.3 484.5 169.4 486.5 169.8 488.1 170.5 489.6 171.5 491.0 172.9 492.0 174.4 492.5 175.8 492.7 177.5 492.6 179.5 492.0 181.4 491.4 182.5 490.2 184.0 489.0 185.1 487.5 186.0 485.5 186.7 484.0 187.0 482.0 186.9 480.5 186.6 478.5 185.8 477.0 184.7 475.5 183.0 474.5 181.1 474.2 180.0 473.9 178.5 474.0 176.5 474.5 174.8 475.5 173.0 476.5 171.9 478.0 170.7 480.0 169.8ZM479.9 221.5L481.5 221.3 483.0 221.5 484.0 222.1 485.3 223.5 486.0 225.1 486.5 227.5 486.7 230.0 486.6 233.0 485.6 239.0 483.7 245.5 479.9 255.5 476.1 263.5 470.8 273.0 466.7 279.5 464.0 283.1 461.0 286.0 456.5 289.2 454.0 290.5 452.0 291.2 449.5 291.7 447.5 291.7 445.5 291.3 444.0 290.6 441.7 289.0 439.6 286.5 438.2 284.0 437.3 281.0 437.1 278.0 437.6 275.0 438.7 271.5 440.3 268.0 442.4 264.5 444.8 261.0 450.3 254.0 459.3 242.0 468.5 230.6 471.5 227.3 474.5 224.5 477.5 222.5ZM481.4 172.0L484.9 172.0 486.0 172.5 487.3 173.5 488.5 175.0 489.0 176.4 489.0 179.4 488.5 180.7 487.2 182.5 486.0 183.5 485.0 184.0 482.5 184.2 481.0 184.0 480.5 183.6 480.0 183.5 478.0 181.5 477.0 179.0 477.0 176.9 478.0 174.5 480.0 172.6ZM478.4 224.0L480.0 223.6 481.5 223.6 482.5 224.0 483.5 225.0 484.3 226.5 484.9 228.5 485.1 231.0 485.0 234.0 484.0 240.0 482.1 246.5 478.1 256.5 474.4 264.5 469.6 273.5 466.8 278.5 464.5 281.8 462.0 284.3 460.0 285.8 457.5 287.4 455.0 288.6 453.0 289.3 451.0 289.6 449.0 289.6 447.0 289.2 445.5 288.6 443.3 287.0 441.5 284.9 440.0 282.2 439.2 279.5 439.0 277.0 439.3 274.5 440.2 271.5 441.8 268.0 443.8 264.5 446.2 261.0 467.5 233.5 471.0 229.5 473.5 227.1 476.0 225.2ZM478.3 226.0L480.0 225.8 481.0 226.0 482.2 227.0 482.9 228.5 483.4 230.5 483.5 233.0 483.3 236.0 482.7 239.5 481.1 245.5 478.2 253.0 474.4 262.0 468.1 275.0 465.9 279.0 464.0 281.6 462.0 283.5 459.0 285.5 455.5 287.0 452.5 287.6 449.5 287.4 447.0 286.5 445.0 285.1 443.2 283.0 441.8 280.5 441.0 278.0 440.8 276.0 441.1 273.5 441.9 271.0 443.3 268.0 445.3 264.5 447.7 261.0 468.0 234.5 471.0 231.2 473.5 228.8 476.0 227.0ZM476.8 228.5L478.5 228.0 479.5 228.1 480.5 228.7 481.3 230.0 481.8 232.0 481.9 234.0 481.8 236.5 481.3 239.5 480.0 244.5 478.3 249.5 473.4 261.5 467.3 275.5 465.7 278.5 464.0 280.9 462.0 282.6 460.0 283.8 457.0 285.1 454.0 285.6 451.5 285.5 449.0 284.7 447.1 283.5 445.5 281.9 444.0 279.7 443.1 277.5 442.7 275.0 442.8 273.0 443.4 271.0 444.5 268.5 446.4 265.0 448.8 261.5 458.5 249.0 467.3 237.0 470.0 233.9 472.5 231.4 474.5 229.8ZM476.6 230.5L478.0 230.3 478.9 230.5 479.5 231.1 480.0 232.0 480.4 234.0 480.4 236.0 479.6 241.0 478.7 244.5 477.4 248.5 473.9 257.0 468.7 271.0 466.3 276.5 465.0 278.8 463.5 280.6 462.0 281.8 460.0 282.8 457.5 283.5 455.0 283.8 452.5 283.5 450.5 282.7 448.7 281.5 447.2 280.0 445.8 278.0 445.0 276.1 444.6 274.0 444.6 272.5 445.0 270.5 445.8 268.5 447.5 265.5 449.8 262.0 459.5 249.6 464.8 242.0 467.5 238.5 470.0 235.5 472.5 233.1 474.5 231.6ZM476.7 232.5L477.5 232.6 478.1 233.0 478.6 234.0 478.9 235.0 478.8 239.0 477.8 243.5 475.9 249.5 473.0 256.0 468.5 269.9 466.0 276.1 465.0 278.0 463.5 279.8 462.5 280.6 460.6 281.5 458.0 282.0 456.5 282.0 454.0 281.6 452.5 281.0 451.0 280.1 449.5 278.9 448.4 277.5 447.2 275.5 446.5 273.5 446.4 271.5 446.7 269.5 447.4 268.0 448.8 265.5 451.2 262.0 460.0 250.9 465.3 243.0 468.4 239.0 471.0 236.1 473.0 234.4 475.0 233.0ZM474.5 235.0L475.5 234.7 476.5 234.7 477.0 235.1 477.5 236.0 477.8 237.5 477.9 239.0 477.3 243.0 475.9 248.0 472.0 257.0 468.0 269.1 466.0 274.0 465.0 275.8 464.0 277.1 462.5 278.3 461.0 279.0 459.0 279.4 457.0 279.5 455.0 279.2 453.0 278.5 451.5 277.6 450.0 276.3 449.0 275.0 448.3 273.5 447.9 272.0 447.8 270.5 448.1 269.0 448.8 267.0 452.0 262.0 460.7 251.0 465.0 244.6 467.0 241.9 471.0 237.5 473.0 235.9ZM473.9 237.0L475.0 236.8 475.5 236.9 476.2 237.5 476.6 238.5 476.9 241.5 476.2 245.5 475.1 249.0 471.5 257.0 467.5 268.2 465.5 272.8 464.5 274.3 463.5 275.3 462.0 276.2 460.5 276.7 458.5 277.0 456.5 276.9 454.5 276.5 453.0 275.9 451.7 275.0 450.7 274.0 450.0 272.9 449.5 271.5 449.2 270.0 449.4 268.5 449.8 267.0 450.6 265.5 453.5 261.0 461.1 251.5 467.0 243.1 469.0 240.8 471.0 238.9 472.5 237.7ZM473.5 239.0L474.5 239.0 475.0 239.3 475.6 240.5 475.9 243.0 475.5 246.5 474.3 250.0 470.7 257.5 467.0 267.2 465.5 270.5 464.5 272.1 463.5 273.0 462.0 273.8 460.5 274.3 458.5 274.6 456.5 274.5 455.0 274.2 453.3 273.5 452.5 272.9 451.5 271.8 451.0 270.7 450.7 269.5 450.9 267.0 452.0 264.5 454.7 260.5 461.4 252.0 467.0 244.3 470.5 240.7 472.0 239.6ZM471.6 241.5L472.5 241.1 473.5 241.1 474.0 241.4 474.5 242.0 474.9 243.0 475.1 244.5 474.8 247.5 473.7 250.5 470.1 257.5 465.5 268.3 464.5 269.8 463.5 270.7 461.0 271.8 459.0 272.1 457.0 272.2 455.5 272.0 454.0 271.4 453.4 271.0 452.6 270.0 452.2 269.0 452.1 268.0 452.4 266.0 453.5 263.5 456.2 259.5 461.8 252.5 466.5 246.2 469.5 243.0ZM471.0 243.5L472.5 243.2 473.0 243.4 473.7 244.0 474.0 244.6 474.3 246.0 474.0 248.5 472.9 251.5 469.3 258.0 466.0 265.2 465.0 267.0 463.5 268.4 462.0 269.1 460.5 269.6 457.0 270.0 456.0 269.9 455.0 269.6 453.9 268.5 453.5 267.0 453.8 265.0 454.9 262.5 457.3 259.0 466.0 248.0 468.5 245.3ZM470.3 245.5L471.0 245.3 472.0 245.2 473.0 245.8 473.5 247.0 473.5 249.0 472.2 252.0 468.0 259.0 465.0 264.7 463.5 266.1 460.5 267.4 457.5 268.1 456.0 267.8 455.5 267.4 455.0 266.5 455.0 265.0 455.6 263.0 456.7 261.0 458.9 258.0 466.0 249.2 468.5 246.7ZM471.4 247.0L472.0 247.1 472.5 247.4 472.9 248.5 472.9 249.5 472.4 251.0 470.7 254.0 465.0 262.5 463.2 264.0 460.0 265.7 458.0 266.3 457.0 266.1 456.5 265.5 456.3 265.0 456.3 264.0 456.6 263.0 457.6 261.0 459.6 258.0 465.0 251.5 467.0 249.4 469.5 247.5 470.5 247.1ZM470.8 248.5L471.5 248.5 472.0 248.9 472.0 250.7 471.5 251.5 471.5 252.0 468.0 257.0 465.0 260.2 462.0 263.0 460.5 264.0 459.2 264.5 458.4 264.5 457.9 264.0 458.1 262.0 459.5 259.4 462.0 256.0 468.0 250.0 469.5 249.0Z" fill="none" stroke="#111" stroke-width="1.3" stroke-linejoin="round"/></g>
<rect x="479" y="148.4" width="12" height="3.3" fill="#7a7a7a"/>
<g stroke="#111" fill="none"><path d="M141.4 324.8v8.2" stroke-width="2.0"/>
<path d="M80.4 262.4h-8.2" stroke-width="2.0"/>
<path d="M161.7 324.8v4.0" stroke-width="1.3"/>
<path d="M80.4 242.3h-4.0" stroke-width="1.3"/>
<path d="M173.6 324.8v4.0" stroke-width="1.3"/>
<path d="M80.4 230.5h-4.0" stroke-width="1.3"/>
<path d="M182.0 324.8v4.0" stroke-width="1.3"/>
<path d="M80.4 222.1h-4.0" stroke-width="1.3"/>
<path d="M188.6 324.8v5.5" stroke-width="1.3"/>
<path d="M80.4 215.6h-5.5" stroke-width="1.3"/>
<path d="M193.9 324.8v4.0" stroke-width="1.3"/>
<path d="M80.4 210.3h-4.0" stroke-width="1.3"/>
<path d="M198.4 324.8v4.0" stroke-width="1.3"/>
<path d="M80.4 205.9h-4.0" stroke-width="1.3"/>
<path d="M202.4 324.8v4.0" stroke-width="1.3"/>
<path d="M80.4 202.0h-4.0" stroke-width="1.3"/>
<path d="M205.8 324.8v4.0" stroke-width="1.3"/>
<path d="M80.4 198.6h-4.0" stroke-width="1.3"/>
<path d="M208.9 324.8v8.2" stroke-width="2.0"/>
<path d="M80.4 195.5h-8.2" stroke-width="2.0"/>
<path d="M228.6 324.8v4.0" stroke-width="1.3"/>
<path d="M80.4 175.9h-4.0" stroke-width="1.3"/>
<path d="M240.1 324.8v4.0" stroke-width="1.3"/>
<path d="M80.4 164.4h-4.0" stroke-width="1.3"/>
<path d="M248.2 324.8v4.0" stroke-width="1.3"/>
<path d="M80.4 156.3h-4.0" stroke-width="1.3"/>
<path d="M254.5 324.8v5.5" stroke-width="1.3"/>
<path d="M80.4 150.0h-5.5" stroke-width="1.3"/>
<path d="M259.7 324.8v4.0" stroke-width="1.3"/>
<path d="M80.4 144.8h-4.0" stroke-width="1.3"/>
<path d="M264.1 324.8v4.0" stroke-width="1.3"/>
<path d="M80.4 140.5h-4.0" stroke-width="1.3"/>
<path d="M267.9 324.8v4.0" stroke-width="1.3"/>
<path d="M80.4 136.7h-4.0" stroke-width="1.3"/>
<path d="M271.2 324.8v4.0" stroke-width="1.3"/>
<path d="M80.4 133.4h-4.0" stroke-width="1.3"/>
<path d="M274.2 324.8v8.2" stroke-width="2.0"/>
<path d="M80.4 130.4h-8.2" stroke-width="2.0"/>
<path d="M293.9 324.8v4.0" stroke-width="1.3"/>
<path d="M80.4 110.9h-4.0" stroke-width="1.3"/>
<path d="M305.5 324.8v4.0" stroke-width="1.3"/>
<path d="M80.4 99.4h-4.0" stroke-width="1.3"/>
<path d="M313.7 324.8v4.0" stroke-width="1.3"/>
<path d="M80.4 91.3h-4.0" stroke-width="1.3"/>
<path d="M320.1 324.8v5.5" stroke-width="1.3"/>
<path d="M80.4 85.0h-5.5" stroke-width="1.3"/>
<path d="M325.2 324.8v4.0" stroke-width="1.3"/>
<path d="M80.4 79.9h-4.0" stroke-width="1.3"/>
<path d="M329.6 324.8v4.0" stroke-width="1.3"/>
<path d="M80.4 75.6h-4.0" stroke-width="1.3"/>
<path d="M333.4 324.8v4.0" stroke-width="1.3"/>
<path d="M80.4 71.8h-4.0" stroke-width="1.3"/>
<path d="M336.8 324.8v4.0" stroke-width="1.3"/>
<path d="M80.4 68.5h-4.0" stroke-width="1.3"/>
<path d="M339.8 324.8v8.2" stroke-width="2.0"/>
<path d="M80.4 65.5h-8.2" stroke-width="2.0"/>
<path d="M359.5 324.8v4.0" stroke-width="1.3"/>
<path d="M80.4 45.9h-4.0" stroke-width="1.3"/>
<path d="M108.2 324.8v4.2" stroke-width="1.3"/>
<path d="M80.4 296.1h-4.2" stroke-width="1.3"/>
<path d="M113.8 324.8v4.2" stroke-width="1.3"/>
<path d="M80.4 290.4h-4.2" stroke-width="1.3"/>
<path d="M119.4 324.8v4.2" stroke-width="1.3"/>
<path d="M80.4 284.7h-4.2" stroke-width="1.3"/>
<path d="M123.8 324.8v5.8" stroke-width="1.3"/>
<path d="M80.4 280.3h-5.8" stroke-width="1.3"/>
<path d="M128.1 324.8v4.2" stroke-width="1.3"/>
<path d="M80.4 275.9h-4.2" stroke-width="1.3"/>
<path d="M132.0 324.8v4.2" stroke-width="1.3"/>
<path d="M80.4 271.9h-4.2" stroke-width="1.3"/>
<path d="M135.3 324.8v4.2" stroke-width="1.3"/>
<path d="M80.4 268.6h-4.2" stroke-width="1.3"/>
<path d="M137.8 324.8v4.2" stroke-width="1.3"/>
<path d="M80.4 266.1h-4.2" stroke-width="1.3"/>
<path d="M102.8 324.8v8.2" stroke-width="2.3"/>
<path d="M104.6 324.8v6" stroke-width="1.6"/>
<path d="M100.6 324.8v6.5" stroke-width="2.0"/>
<path d="M98.7 324.8v6.5" stroke-width="2.0"/>
<path d="M96.9 324.8v6.5" stroke-width="2.0"/>
<path d="M94.9 324.8v6.5" stroke-width="2.0"/>
<path d="M92.9 324.8v6.5" stroke-width="2.0"/>
<path d="M90.3 324.8v8.2" stroke-width="2.3"/>
<path d="M83.2 324.8v4" stroke-width="1.3"/>
<path d="M80.4 301.6h-8.0" stroke-width="2.1"/>
<path d="M80.4 304.7h-6.3" stroke-width="2.0"/>
<path d="M80.4 308.0h-6.3" stroke-width="2.0"/>
<path d="M80.4 311.0h-6.3" stroke-width="2.0"/>
<path d="M80.4 314.0h-6.3" stroke-width="2.0"/>
<path d="M80.4 317.5h-3.5" stroke-width="1.3"/></g>
<g stroke="#111" fill="none"><path d="M455.5 324.8v8.2" stroke-width="2.0"/>
<path d="M393.9 262.4h-8.2" stroke-width="2.0"/>
<path d="M475.8 324.8v4.0" stroke-width="1.3"/>
<path d="M393.9 242.3h-4.0" stroke-width="1.3"/>
<path d="M487.7 324.8v4.0" stroke-width="1.3"/>
<path d="M393.9 230.5h-4.0" stroke-width="1.3"/>
<path d="M496.1 324.8v4.0" stroke-width="1.3"/>
<path d="M393.9 222.1h-4.0" stroke-width="1.3"/>
<path d="M502.6 324.8v5.5" stroke-width="1.3"/>
<path d="M393.9 215.6h-5.5" stroke-width="1.3"/>
<path d="M508.0 324.8v4.0" stroke-width="1.3"/>
<path d="M393.9 210.3h-4.0" stroke-width="1.3"/>
<path d="M512.5 324.8v4.0" stroke-width="1.3"/>
<path d="M393.9 205.9h-4.0" stroke-width="1.3"/>
<path d="M516.4 324.8v4.0" stroke-width="1.3"/>
<path d="M393.9 202.0h-4.0" stroke-width="1.3"/>
<path d="M519.9 324.8v4.0" stroke-width="1.3"/>
<path d="M393.9 198.6h-4.0" stroke-width="1.3"/>
<path d="M523.0 324.8v8.2" stroke-width="2.0"/>
<path d="M393.9 195.5h-8.2" stroke-width="2.0"/>
<path d="M542.6 324.8v4.0" stroke-width="1.3"/>
<path d="M393.9 175.9h-4.0" stroke-width="1.3"/>
<path d="M554.1 324.8v4.0" stroke-width="1.3"/>
<path d="M393.9 164.4h-4.0" stroke-width="1.3"/>
<path d="M562.3 324.8v4.0" stroke-width="1.3"/>
<path d="M393.9 156.3h-4.0" stroke-width="1.3"/>
<path d="M568.6 324.8v5.5" stroke-width="1.3"/>
<path d="M393.9 150.0h-5.5" stroke-width="1.3"/>
<path d="M573.8 324.8v4.0" stroke-width="1.3"/>
<path d="M393.9 144.8h-4.0" stroke-width="1.3"/>
<path d="M578.1 324.8v4.0" stroke-width="1.3"/>
<path d="M393.9 140.5h-4.0" stroke-width="1.3"/>
<path d="M581.9 324.8v4.0" stroke-width="1.3"/>
<path d="M393.9 136.7h-4.0" stroke-width="1.3"/>
<path d="M585.3 324.8v4.0" stroke-width="1.3"/>
<path d="M393.9 133.4h-4.0" stroke-width="1.3"/>
<path d="M588.2 324.8v8.2" stroke-width="2.0"/>
<path d="M393.9 130.4h-8.2" stroke-width="2.0"/>
<path d="M608.0 324.8v4.0" stroke-width="1.3"/>
<path d="M393.9 110.9h-4.0" stroke-width="1.3"/>
<path d="M619.5 324.8v4.0" stroke-width="1.3"/>
<path d="M393.9 99.4h-4.0" stroke-width="1.3"/>
<path d="M627.7 324.8v4.0" stroke-width="1.3"/>
<path d="M393.9 91.3h-4.0" stroke-width="1.3"/>
<path d="M634.1 324.8v5.5" stroke-width="1.3"/>
<path d="M393.9 85.0h-5.5" stroke-width="1.3"/>
<path d="M639.3 324.8v4.0" stroke-width="1.3"/>
<path d="M393.9 79.9h-4.0" stroke-width="1.3"/>
<path d="M643.7 324.8v4.0" stroke-width="1.3"/>
<path d="M393.9 75.6h-4.0" stroke-width="1.3"/>
<path d="M647.5 324.8v4.0" stroke-width="1.3"/>
<path d="M393.9 71.8h-4.0" stroke-width="1.3"/>
<path d="M650.8 324.8v4.0" stroke-width="1.3"/>
<path d="M393.9 68.5h-4.0" stroke-width="1.3"/>
<path d="M653.9 324.8v8.2" stroke-width="2.0"/>
<path d="M393.9 65.5h-8.2" stroke-width="2.0"/>
<path d="M673.5 324.8v4.0" stroke-width="1.3"/>
<path d="M393.9 45.9h-4.0" stroke-width="1.3"/>
<path d="M422.2 324.8v4.2" stroke-width="1.3"/>
<path d="M393.9 296.1h-4.2" stroke-width="1.3"/>
<path d="M427.9 324.8v4.2" stroke-width="1.3"/>
<path d="M393.9 290.4h-4.2" stroke-width="1.3"/>
<path d="M433.5 324.8v4.2" stroke-width="1.3"/>
<path d="M393.9 284.7h-4.2" stroke-width="1.3"/>
<path d="M437.9 324.8v5.8" stroke-width="1.3"/>
<path d="M393.9 280.3h-5.8" stroke-width="1.3"/>
<path d="M442.1 324.8v4.2" stroke-width="1.3"/>
<path d="M393.9 275.9h-4.2" stroke-width="1.3"/>
<path d="M446.1 324.8v4.2" stroke-width="1.3"/>
<path d="M393.9 271.9h-4.2" stroke-width="1.3"/>
<path d="M449.4 324.8v4.2" stroke-width="1.3"/>
<path d="M393.9 268.6h-4.2" stroke-width="1.3"/>
<path d="M451.9 324.8v4.2" stroke-width="1.3"/>
<path d="M393.9 266.1h-4.2" stroke-width="1.3"/>
<path d="M416.9 324.8v8.2" stroke-width="2.3"/>
<path d="M418.6 324.8v6" stroke-width="1.6"/>
<path d="M414.6 324.8v6.5" stroke-width="2.0"/>
<path d="M412.8 324.8v6.5" stroke-width="2.0"/>
<path d="M411.0 324.8v6.5" stroke-width="2.0"/>
<path d="M409.0 324.8v6.5" stroke-width="2.0"/>
<path d="M407.0 324.8v6.5" stroke-width="2.0"/>
<path d="M404.4 324.8v8.2" stroke-width="2.3"/>
<path d="M397.2 324.8v4" stroke-width="1.3"/>
<path d="M393.9 301.6h-8.0" stroke-width="2.1"/>
<path d="M393.9 304.7h-6.3" stroke-width="2.0"/>
<path d="M393.9 308.0h-6.3" stroke-width="2.0"/>
<path d="M393.9 311.0h-6.3" stroke-width="2.0"/>
<path d="M393.9 314.0h-6.3" stroke-width="2.0"/>
<path d="M393.9 317.5h-3.5" stroke-width="1.3"/></g>
<rect x="80.40" y="38.9" width="287.10" height="285.90" fill="none" stroke="#111" stroke-width="1.6"/>
<path d="M203.3 49.2H81.3V200.5H203.3" fill="none" stroke="#111" stroke-width="2.2"/>
<rect x="80.70" y="216.4" width="286.90" height="105.0" fill="none" stroke="#AD8A68" stroke-width="2.4"/>
<rect x="203.30" y="49.3" width="124.50" height="150.7" fill="none" stroke="#66BE00" stroke-width="2.4"/>
<rect x="393.85" y="38.9" width="287.10" height="285.90" fill="none" stroke="#111" stroke-width="1.6"/>
<path d="M517.6 49.2H394.8V200.9H517.6" fill="none" stroke="#111" stroke-width="2.2"/>
<rect x="394.15" y="216.4" width="286.90" height="105.0" fill="none" stroke="#AD8A68" stroke-width="2.4"/>
<rect x="517.60" y="49.3" width="123.30" height="150.7" fill="none" stroke="#66BE00" stroke-width="2.4"/>
<text x="137.5" y="358.2">10<tspan dy="-8.3" style="font-size:15px">2</tspan></text>
<text x="202.7" y="358.2">10<tspan dy="-8.3" style="font-size:15px">3</tspan></text>
<text x="268.0" y="358.2">10<tspan dy="-8.3" style="font-size:15px">4</tspan></text>
<text x="333.7" y="358.2">10<tspan dy="-8.3" style="font-size:15px">5</tspan></text>
<text x="95.2" y="358.2">0</text>
<text x="31.4" y="74.3">10<tspan dy="-8.3" style="font-size:15px">5</tspan></text>
<text x="31.4" y="139.4">10<tspan dy="-8.3" style="font-size:15px">4</tspan></text>
<text x="31.4" y="201.0">10<tspan dy="-8.3" style="font-size:15px">3</tspan></text>
<text x="31.4" y="270.9">10<tspan dy="-8.3" style="font-size:15px">2</tspan></text>
<text x="52.4" y="315.7">0</text>
<text x="452.1" y="358.2">10<tspan dy="-8.3" style="font-size:15px">2</tspan></text>
<text x="517.3" y="358.2">10<tspan dy="-8.3" style="font-size:15px">3</tspan></text>
<text x="582.6" y="358.2">10<tspan dy="-8.3" style="font-size:15px">4</tspan></text>
<text x="648.3" y="358.2">10<tspan dy="-8.3" style="font-size:15px">5</tspan></text>
<text x="409.8" y="358.2">0</text>
<text x="224.1" y="21.9" text-anchor="middle">Dormancy</text>
<text x="541.6" y="21.9" text-anchor="middle" style="font-size:25.6px">Metastasis</text>
<text x="127.7" y="78.3" text-anchor="middle" style="font-size:25.8px">Cycling</text>
<text x="127.9" y="107.6" text-anchor="middle">DTCs</text>
<text x="263.6" y="77.9" text-anchor="middle" class="g">Quiescent</text>
<text x="263.5" y="107.6" text-anchor="middle" class="g">DTCs</text>
<text x="261.8" y="295.9" text-anchor="middle" class="b">Microenvironment</text>
<text x="441.8" y="78.3" text-anchor="middle" style="font-size:25.8px">Cycling</text>
<text x="442.0" y="107.6" text-anchor="middle">DTCs</text>
<text x="577.7" y="77.9" text-anchor="middle" class="g">Quiescent</text>
<text x="577.5" y="107.6" text-anchor="middle" class="g">DTCs</text>
<text x="575.9" y="295.9" text-anchor="middle" class="b">Microenvironment</text>
<text transform="translate(22.2 314.9) rotate(-90)" class="r" style="font-size:25.65px">tdTomato</text>
<text x="82.5" y="387" class="g" style="font-size:25.8px">mVenus-p27K<tspan dy="-8.6" dx="0.5" style="font-size:15.5px">−</tspan></text>
<path d="M14.9 344V379.9H52" fill="none" stroke="#111" stroke-width="2.5"/>
<path d="M14.9 326.1L24.7 348.8L14.9 345.1L5 348.8Z" fill="#111"/>
<path d="M70.2 379.8L47.4 389.6L51.1 379.8L47.4 370.1Z" fill="#111"/>
</svg></body></html>
